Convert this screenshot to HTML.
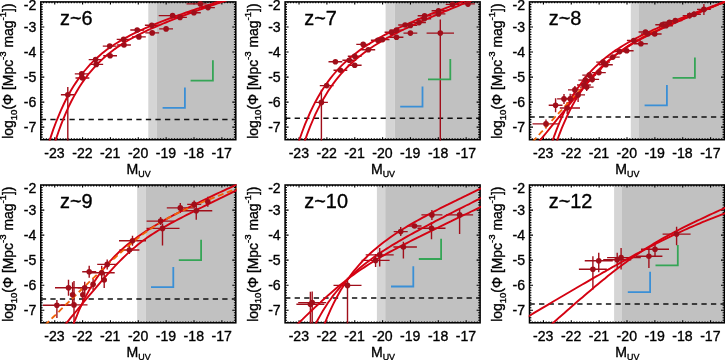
<!DOCTYPE html>
<html><head><meta charset="utf-8"><title>UV luminosity functions</title>
<style>
html,body{margin:0;padding:0;background:#fff;}
body{width:725px;height:360px;overflow:hidden;}
svg{display:block;}
svg text{font-family:"Liberation Sans", Arial, Helvetica, sans-serif;font-size:14.1px;fill:#000;stroke:#000;stroke-width:0.35px;}
</style></head><body>
<svg width="725" height="360" viewBox="0 0 725 360">
<rect width="725" height="360" fill="#fff"/>
<g>
<clipPath id="c00"><rect x="40" y="1.1" width="196.6" height="139.4"/></clipPath>
<rect x="148.3" y="1.9" width="8.6" height="137.8" fill="#d5d5d5"/>
<rect x="156.9" y="1.9" width="78.9" height="137.8" fill="#c1c1c1"/>
<path d="M43.59 139.7v-1.4M43.59 1.9v1.4M46.37 139.7v-1.4M46.37 1.9v1.4M49.16 139.7v-1.4M49.16 1.9v1.4M51.94 139.7v-1.4M51.94 1.9v1.4M54.73 139.7v-2.5M54.73 1.9v2.5M57.52 139.7v-1.4M57.52 1.9v1.4M60.3 139.7v-1.4M60.3 1.9v1.4M63.09 139.7v-1.4M63.09 1.9v1.4M65.87 139.7v-1.4M65.87 1.9v1.4M68.66 139.7v-1.4M68.66 1.9v1.4M71.44 139.7v-1.4M71.44 1.9v1.4M74.23 139.7v-1.4M74.23 1.9v1.4M77.02 139.7v-1.4M77.02 1.9v1.4M79.8 139.7v-1.4M79.8 1.9v1.4M82.59 139.7v-2.5M82.59 1.9v2.5M85.37 139.7v-1.4M85.37 1.9v1.4M88.16 139.7v-1.4M88.16 1.9v1.4M90.94 139.7v-1.4M90.94 1.9v1.4M93.73 139.7v-1.4M93.73 1.9v1.4M96.52 139.7v-1.4M96.52 1.9v1.4M99.3 139.7v-1.4M99.3 1.9v1.4M102.09 139.7v-1.4M102.09 1.9v1.4M104.87 139.7v-1.4M104.87 1.9v1.4M107.66 139.7v-1.4M107.66 1.9v1.4M110.44 139.7v-2.5M110.44 1.9v2.5M113.23 139.7v-1.4M113.23 1.9v1.4M116.02 139.7v-1.4M116.02 1.9v1.4M118.8 139.7v-1.4M118.8 1.9v1.4M121.59 139.7v-1.4M121.59 1.9v1.4M124.37 139.7v-1.4M124.37 1.9v1.4M127.16 139.7v-1.4M127.16 1.9v1.4M129.94 139.7v-1.4M129.94 1.9v1.4M132.73 139.7v-1.4M132.73 1.9v1.4M135.52 139.7v-1.4M135.52 1.9v1.4M138.3 139.7v-2.5M138.3 1.9v2.5M141.09 139.7v-1.4M141.09 1.9v1.4M143.87 139.7v-1.4M143.87 1.9v1.4M146.66 139.7v-1.4M146.66 1.9v1.4M149.44 139.7v-1.4M149.44 1.9v1.4M152.23 139.7v-1.4M152.23 1.9v1.4M155.02 139.7v-1.4M155.02 1.9v1.4M157.8 139.7v-1.4M157.8 1.9v1.4M160.59 139.7v-1.4M160.59 1.9v1.4M163.37 139.7v-1.4M163.37 1.9v1.4M166.16 139.7v-2.5M166.16 1.9v2.5M168.94 139.7v-1.4M168.94 1.9v1.4M171.73 139.7v-1.4M171.73 1.9v1.4M174.52 139.7v-1.4M174.52 1.9v1.4M177.3 139.7v-1.4M177.3 1.9v1.4M180.09 139.7v-1.4M180.09 1.9v1.4M182.87 139.7v-1.4M182.87 1.9v1.4M185.66 139.7v-1.4M185.66 1.9v1.4M188.44 139.7v-1.4M188.44 1.9v1.4M191.23 139.7v-1.4M191.23 1.9v1.4M194.01 139.7v-2.5M194.01 1.9v2.5M196.8 139.7v-1.4M196.8 1.9v1.4M199.59 139.7v-1.4M199.59 1.9v1.4M202.37 139.7v-1.4M202.37 1.9v1.4M205.16 139.7v-1.4M205.16 1.9v1.4M207.94 139.7v-1.4M207.94 1.9v1.4M210.73 139.7v-1.4M210.73 1.9v1.4M213.51 139.7v-1.4M213.51 1.9v1.4M216.3 139.7v-1.4M216.3 1.9v1.4M219.09 139.7v-1.4M219.09 1.9v1.4M221.87 139.7v-2.5M221.87 1.9v2.5M224.66 139.7v-1.4M224.66 1.9v1.4M227.44 139.7v-1.4M227.44 1.9v1.4M230.23 139.7v-1.4M230.23 1.9v1.4M233.01 139.7v-1.4M233.01 1.9v1.4M40.8 137.17h1.9M235.8 137.17h-1.9M40.8 134.66h1.9M235.8 134.66h-1.9M40.8 132.16h1.9M235.8 132.16h-1.9M40.8 129.66h1.9M235.8 129.66h-1.9M40.8 127.15h3.5M235.8 127.15h-3.5M40.8 124.65h1.9M235.8 124.65h-1.9M40.8 122.14h1.9M235.8 122.14h-1.9M40.8 119.64h1.9M235.8 119.64h-1.9M40.8 117.13h1.9M235.8 117.13h-1.9M40.8 114.63h1.9M235.8 114.63h-1.9M40.8 112.12h1.9M235.8 112.12h-1.9M40.8 109.62h1.9M235.8 109.62h-1.9M40.8 107.11h1.9M235.8 107.11h-1.9M40.8 104.61h1.9M235.8 104.61h-1.9M40.8 102.1h3.5M235.8 102.1h-3.5M40.8 99.6h1.9M235.8 99.6h-1.9M40.8 97.09h1.9M235.8 97.09h-1.9M40.8 94.59h1.9M235.8 94.59h-1.9M40.8 92.08h1.9M235.8 92.08h-1.9M40.8 89.58h1.9M235.8 89.58h-1.9M40.8 87.07h1.9M235.8 87.07h-1.9M40.8 84.56h1.9M235.8 84.56h-1.9M40.8 82.06h1.9M235.8 82.06h-1.9M40.8 79.55h1.9M235.8 79.55h-1.9M40.8 77.05h3.5M235.8 77.05h-3.5M40.8 74.55h1.9M235.8 74.55h-1.9M40.8 72.04h1.9M235.8 72.04h-1.9M40.8 69.54h1.9M235.8 69.54h-1.9M40.8 67.03h1.9M235.8 67.03h-1.9M40.8 64.53h1.9M235.8 64.53h-1.9M40.8 62.02h1.9M235.8 62.02h-1.9M40.8 59.51h1.9M235.8 59.51h-1.9M40.8 57.01h1.9M235.8 57.01h-1.9M40.8 54.5h1.9M235.8 54.5h-1.9M40.8 52h3.5M235.8 52h-3.5M40.8 49.49h1.9M235.8 49.49h-1.9M40.8 46.99h1.9M235.8 46.99h-1.9M40.8 44.49h1.9M235.8 44.49h-1.9M40.8 41.98h1.9M235.8 41.98h-1.9M40.8 39.48h1.9M235.8 39.48h-1.9M40.8 36.97h1.9M235.8 36.97h-1.9M40.8 34.46h1.9M235.8 34.46h-1.9M40.8 31.96h1.9M235.8 31.96h-1.9M40.8 29.46h1.9M235.8 29.46h-1.9M40.8 26.95h3.5M235.8 26.95h-3.5M40.8 24.44h1.9M235.8 24.44h-1.9M40.8 21.94h1.9M235.8 21.94h-1.9M40.8 19.44h1.9M235.8 19.44h-1.9M40.8 16.93h1.9M235.8 16.93h-1.9M40.8 14.43h1.9M235.8 14.43h-1.9M40.8 11.92h1.9M235.8 11.92h-1.9M40.8 9.41h1.9M235.8 9.41h-1.9M40.8 6.91h1.9M235.8 6.91h-1.9M40.8 4.41h1.9M235.8 4.41h-1.9" stroke="#000" stroke-width="1.15" fill="none"/>
<rect x="40.8" y="1.9" width="195" height="137.8" fill="none" stroke="#000" stroke-width="1.55"/>
<g clip-path="url(#c00)">
<line x1="40.8" y1="119.6" x2="235.8" y2="119.6" stroke="#111" stroke-width="1.5" stroke-dasharray="5.3 4.25" stroke-dashoffset="0"/>
<line x1="60.9" y1="94.7" x2="74.7" y2="94.7" stroke="#a00e1a" stroke-width="1.4"/>
<line x1="67.8" y1="87" x2="67.8" y2="144.7" stroke="#a00e1a" stroke-width="1.4"/>
<line x1="74.8" y1="73.9" x2="88.6" y2="73.9" stroke="#a00e1a" stroke-width="1.4"/>
<line x1="75.5" y1="78" x2="89.3" y2="78" stroke="#a00e1a" stroke-width="1.4"/>
<line x1="88.7" y1="59.6" x2="102.5" y2="59.6" stroke="#a00e1a" stroke-width="1.4"/>
<line x1="89.35" y1="64.4" x2="103.15" y2="64.4" stroke="#a00e1a" stroke-width="1.4"/>
<line x1="102.8" y1="46.1" x2="116.6" y2="46.1" stroke="#a00e1a" stroke-width="1.4"/>
<line x1="103.2" y1="55.8" x2="117" y2="55.8" stroke="#a00e1a" stroke-width="1.4"/>
<line x1="116.7" y1="39.4" x2="130.5" y2="39.4" stroke="#a00e1a" stroke-width="1.4"/>
<line x1="117.1" y1="45" x2="130.9" y2="45" stroke="#a00e1a" stroke-width="1.4"/>
<line x1="130.3" y1="30" x2="144.1" y2="30" stroke="#a00e1a" stroke-width="1.4"/>
<line x1="132" y1="36.9" x2="145.8" y2="36.9" stroke="#a00e1a" stroke-width="1.4"/>
<line x1="144.9" y1="25.3" x2="158.7" y2="25.3" stroke="#a00e1a" stroke-width="1.4"/>
<line x1="145.3" y1="32.9" x2="159.1" y2="32.9" stroke="#a00e1a" stroke-width="1.4"/>
<line x1="159.2" y1="28.9" x2="173" y2="28.9" stroke="#a00e1a" stroke-width="1.4"/>
<line x1="158.7" y1="15.6" x2="178.9" y2="15.6" stroke="#a00e1a" stroke-width="1.4"/>
<line x1="173.1" y1="17.4" x2="186.9" y2="17.4" stroke="#a00e1a" stroke-width="1.4"/>
<line x1="187" y1="12.8" x2="200.8" y2="12.8" stroke="#a00e1a" stroke-width="1.4"/>
<line x1="186.5" y1="3.9" x2="206.7" y2="3.9" stroke="#a00e1a" stroke-width="1.4"/>
<line x1="201.1" y1="7.6" x2="214.9" y2="7.6" stroke="#a00e1a" stroke-width="1.4"/>
<path d="M38.0 184.2L40.6 173.2L43.1 163.1L45.7 153.7L48.2 145.0L50.8 136.9L53.3 129.4L55.9 122.5L58.5 116.1L61.0 110.1L63.6 104.5L66.1 99.3L68.7 94.5L71.2 90.0L73.8 85.8L76.4 81.9L78.9 78.2L81.5 74.8L84.0 71.5L86.6 68.5L89.1 65.6L91.7 62.9L94.3 60.4L96.8 58.0L99.4 55.7L101.9 53.6L104.5 51.5L107.0 49.6L109.6 47.7L112.2 46.0L114.7 44.3L117.3 42.7L119.8 41.1L122.4 39.6L124.9 38.2L127.5 36.8L130.1 35.4L132.6 34.1L135.2 32.9L137.7 31.7L140.3 30.5L142.8 29.3L145.4 28.2L147.9 27.1L150.5 26.0L153.1 24.9L155.6 23.9L158.2 22.9L160.7 21.9L163.3 20.9L165.8 19.9L168.4 18.9L171.0 18.0L173.5 17.0L176.1 16.1L178.6 15.2L181.2 14.3L183.7 13.4L186.3 12.5L188.9 11.6L191.4 10.7L194.0 9.8L196.5 8.9L199.1 8.1L201.6 7.2L204.2 6.3L206.8 5.5L209.3 4.6L211.9 3.8L214.4 2.9L217.0 2.1L219.5 1.2L222.1 0.4L224.7 -0.4L227.2 -1.3L229.8 -2.1L232.3 -2.9L234.9 -3.8L237.4 -4.6L240.0 -5.4" fill="none" stroke="#d40212" stroke-width="1.9"/>
<path d="M38.0 211.9L40.6 199.0L43.1 187.0L45.7 176.0L48.2 165.7L50.8 156.3L53.3 147.5L55.9 139.4L58.5 131.8L61.0 124.9L63.6 118.4L66.1 112.3L68.7 106.7L71.2 101.5L73.8 96.6L76.4 92.0L78.9 87.8L81.5 83.8L84.0 80.1L86.6 76.6L89.1 73.3L91.7 70.3L94.3 67.4L96.8 64.6L99.4 62.0L101.9 59.6L104.5 57.3L107.0 55.1L109.6 53.0L112.2 51.0L114.7 49.1L117.3 47.3L119.8 45.6L122.4 43.9L124.9 42.3L127.5 40.8L130.1 39.3L132.6 37.9L135.2 36.5L137.7 35.2L140.3 33.9L142.8 32.6L145.4 31.4L147.9 30.2L150.5 29.0L153.1 27.9L155.6 26.8L158.2 25.7L160.7 24.6L163.3 23.5L165.8 22.5L168.4 21.4L171.0 20.4L173.5 19.4L176.1 18.4L178.6 17.5L181.2 16.5L183.7 15.5L186.3 14.6L188.9 13.6L191.4 12.7L194.0 11.8L196.5 10.8L199.1 9.9L201.6 9.0L204.2 8.1L206.8 7.2L209.3 6.3L211.9 5.4L214.4 4.5L217.0 3.6L219.5 2.8L222.1 1.9L224.7 1.0L227.2 0.1L229.8 -0.8L232.3 -1.6L234.9 -2.5L237.4 -3.4L240.0 -4.3" fill="none" stroke="#d40212" stroke-width="1.9"/>
<circle cx="67.8" cy="94.7" r="2.8" fill="#a00e1a"/>
<circle cx="81.7" cy="73.9" r="2.8" fill="#a00e1a"/>
<circle cx="82.4" cy="78" r="2.8" fill="#a00e1a"/>
<circle cx="95.6" cy="59.6" r="2.8" fill="#a00e1a"/>
<circle cx="96.25" cy="64.4" r="2.8" fill="#a00e1a"/>
<circle cx="109.7" cy="46.1" r="2.8" fill="#a00e1a"/>
<circle cx="110.1" cy="55.8" r="2.8" fill="#a00e1a"/>
<circle cx="123.6" cy="39.4" r="2.8" fill="#a00e1a"/>
<circle cx="124" cy="45" r="2.8" fill="#a00e1a"/>
<circle cx="137.2" cy="30" r="2.8" fill="#a00e1a"/>
<circle cx="138.9" cy="36.9" r="2.8" fill="#a00e1a"/>
<circle cx="151.8" cy="25.3" r="2.8" fill="#a00e1a"/>
<circle cx="152.2" cy="32.9" r="2.8" fill="#a00e1a"/>
<circle cx="166.1" cy="28.9" r="2.8" fill="#a00e1a"/>
<circle cx="172.6" cy="15.6" r="2.8" fill="#a00e1a"/>
<circle cx="180" cy="17.4" r="2.8" fill="#a00e1a"/>
<circle cx="193.9" cy="12.8" r="2.8" fill="#a00e1a"/>
<circle cx="200.4" cy="3.9" r="2.8" fill="#a00e1a"/>
<circle cx="208" cy="7.6" r="2.8" fill="#a00e1a"/>
<path d="M162.6 107.8H184.9V87.5" fill="none" stroke="#3a8fd6" stroke-width="1.8" stroke-linejoin="miter"/>
<path d="M190.6 80.6H212.9V60.3" fill="none" stroke="#35a556" stroke-width="1.8" stroke-linejoin="miter"/>
</g>
<text x="54.53" y="157.8" text-anchor="middle">-23</text>
<text x="82.39" y="157.8" text-anchor="middle">-22</text>
<text x="110.24" y="157.8" text-anchor="middle">-21</text>
<text x="138.1" y="157.8" text-anchor="middle">-20</text>
<text x="165.96" y="157.8" text-anchor="middle">-19</text>
<text x="193.81" y="157.8" text-anchor="middle">-18</text>
<text x="221.67" y="157.8" text-anchor="middle">-17</text>
<text x="36.4" y="131.75" text-anchor="end">-7</text>
<text x="36.4" y="106.7" text-anchor="end">-6</text>
<text x="36.4" y="81.65" text-anchor="end">-5</text>
<text x="36.4" y="56.6" text-anchor="end">-4</text>
<text x="36.4" y="31.55" text-anchor="end">-3</text>
<text x="36.4" y="9.5" text-anchor="end">-2</text>
<text x="126.6" y="173.5">M<tspan style="font-size:8.9px" dy="3.4">UV</tspan></text>
<text transform="translate(13.4 71.1) rotate(-90)" text-anchor="middle" style="font-size:13.9px">log<tspan style="font-size:9.6px" dy="3.4">10</tspan><tspan dy="-3.4">(Φ [Mpc</tspan><tspan style="font-size:9.6px" dy="-7">-3</tspan><tspan dy="7"> mag</tspan><tspan style="font-size:9.6px" dy="-7">-1</tspan><tspan dy="7">])</tspan></text>
<text x="60" y="24.6" style="font-size:19.9px">z~6</text>
</g>
<g>
<clipPath id="c01"><rect x="284.3" y="1.1" width="196.6" height="139.4"/></clipPath>
<rect x="385.6" y="1.9" width="9.2" height="137.8" fill="#d5d5d5"/>
<rect x="394.8" y="1.9" width="85.3" height="137.8" fill="#c1c1c1"/>
<path d="M287.89 139.7v-1.4M287.89 1.9v1.4M290.67 139.7v-1.4M290.67 1.9v1.4M293.46 139.7v-1.4M293.46 1.9v1.4M296.24 139.7v-1.4M296.24 1.9v1.4M299.03 139.7v-2.5M299.03 1.9v2.5M301.82 139.7v-1.4M301.82 1.9v1.4M304.6 139.7v-1.4M304.6 1.9v1.4M307.39 139.7v-1.4M307.39 1.9v1.4M310.17 139.7v-1.4M310.17 1.9v1.4M312.96 139.7v-1.4M312.96 1.9v1.4M315.74 139.7v-1.4M315.74 1.9v1.4M318.53 139.7v-1.4M318.53 1.9v1.4M321.32 139.7v-1.4M321.32 1.9v1.4M324.1 139.7v-1.4M324.1 1.9v1.4M326.89 139.7v-2.5M326.89 1.9v2.5M329.67 139.7v-1.4M329.67 1.9v1.4M332.46 139.7v-1.4M332.46 1.9v1.4M335.24 139.7v-1.4M335.24 1.9v1.4M338.03 139.7v-1.4M338.03 1.9v1.4M340.82 139.7v-1.4M340.82 1.9v1.4M343.6 139.7v-1.4M343.6 1.9v1.4M346.39 139.7v-1.4M346.39 1.9v1.4M349.17 139.7v-1.4M349.17 1.9v1.4M351.96 139.7v-1.4M351.96 1.9v1.4M354.74 139.7v-2.5M354.74 1.9v2.5M357.53 139.7v-1.4M357.53 1.9v1.4M360.32 139.7v-1.4M360.32 1.9v1.4M363.1 139.7v-1.4M363.1 1.9v1.4M365.89 139.7v-1.4M365.89 1.9v1.4M368.67 139.7v-1.4M368.67 1.9v1.4M371.46 139.7v-1.4M371.46 1.9v1.4M374.24 139.7v-1.4M374.24 1.9v1.4M377.03 139.7v-1.4M377.03 1.9v1.4M379.82 139.7v-1.4M379.82 1.9v1.4M382.6 139.7v-2.5M382.6 1.9v2.5M385.39 139.7v-1.4M385.39 1.9v1.4M388.17 139.7v-1.4M388.17 1.9v1.4M390.96 139.7v-1.4M390.96 1.9v1.4M393.74 139.7v-1.4M393.74 1.9v1.4M396.53 139.7v-1.4M396.53 1.9v1.4M399.32 139.7v-1.4M399.32 1.9v1.4M402.1 139.7v-1.4M402.1 1.9v1.4M404.89 139.7v-1.4M404.89 1.9v1.4M407.67 139.7v-1.4M407.67 1.9v1.4M410.46 139.7v-2.5M410.46 1.9v2.5M413.24 139.7v-1.4M413.24 1.9v1.4M416.03 139.7v-1.4M416.03 1.9v1.4M418.82 139.7v-1.4M418.82 1.9v1.4M421.6 139.7v-1.4M421.6 1.9v1.4M424.39 139.7v-1.4M424.39 1.9v1.4M427.17 139.7v-1.4M427.17 1.9v1.4M429.96 139.7v-1.4M429.96 1.9v1.4M432.74 139.7v-1.4M432.74 1.9v1.4M435.53 139.7v-1.4M435.53 1.9v1.4M438.32 139.7v-2.5M438.32 1.9v2.5M441.1 139.7v-1.4M441.1 1.9v1.4M443.89 139.7v-1.4M443.89 1.9v1.4M446.67 139.7v-1.4M446.67 1.9v1.4M449.46 139.7v-1.4M449.46 1.9v1.4M452.24 139.7v-1.4M452.24 1.9v1.4M455.03 139.7v-1.4M455.03 1.9v1.4M457.81 139.7v-1.4M457.81 1.9v1.4M460.6 139.7v-1.4M460.6 1.9v1.4M463.39 139.7v-1.4M463.39 1.9v1.4M466.17 139.7v-2.5M466.17 1.9v2.5M468.96 139.7v-1.4M468.96 1.9v1.4M471.74 139.7v-1.4M471.74 1.9v1.4M474.53 139.7v-1.4M474.53 1.9v1.4M477.31 139.7v-1.4M477.31 1.9v1.4M285.1 137.17h1.9M480.1 137.17h-1.9M285.1 134.66h1.9M480.1 134.66h-1.9M285.1 132.16h1.9M480.1 132.16h-1.9M285.1 129.66h1.9M480.1 129.66h-1.9M285.1 127.15h3.5M480.1 127.15h-3.5M285.1 124.65h1.9M480.1 124.65h-1.9M285.1 122.14h1.9M480.1 122.14h-1.9M285.1 119.64h1.9M480.1 119.64h-1.9M285.1 117.13h1.9M480.1 117.13h-1.9M285.1 114.63h1.9M480.1 114.63h-1.9M285.1 112.12h1.9M480.1 112.12h-1.9M285.1 109.62h1.9M480.1 109.62h-1.9M285.1 107.11h1.9M480.1 107.11h-1.9M285.1 104.61h1.9M480.1 104.61h-1.9M285.1 102.1h3.5M480.1 102.1h-3.5M285.1 99.6h1.9M480.1 99.6h-1.9M285.1 97.09h1.9M480.1 97.09h-1.9M285.1 94.59h1.9M480.1 94.59h-1.9M285.1 92.08h1.9M480.1 92.08h-1.9M285.1 89.58h1.9M480.1 89.58h-1.9M285.1 87.07h1.9M480.1 87.07h-1.9M285.1 84.56h1.9M480.1 84.56h-1.9M285.1 82.06h1.9M480.1 82.06h-1.9M285.1 79.55h1.9M480.1 79.55h-1.9M285.1 77.05h3.5M480.1 77.05h-3.5M285.1 74.55h1.9M480.1 74.55h-1.9M285.1 72.04h1.9M480.1 72.04h-1.9M285.1 69.54h1.9M480.1 69.54h-1.9M285.1 67.03h1.9M480.1 67.03h-1.9M285.1 64.53h1.9M480.1 64.53h-1.9M285.1 62.02h1.9M480.1 62.02h-1.9M285.1 59.51h1.9M480.1 59.51h-1.9M285.1 57.01h1.9M480.1 57.01h-1.9M285.1 54.5h1.9M480.1 54.5h-1.9M285.1 52h3.5M480.1 52h-3.5M285.1 49.49h1.9M480.1 49.49h-1.9M285.1 46.99h1.9M480.1 46.99h-1.9M285.1 44.49h1.9M480.1 44.49h-1.9M285.1 41.98h1.9M480.1 41.98h-1.9M285.1 39.48h1.9M480.1 39.48h-1.9M285.1 36.97h1.9M480.1 36.97h-1.9M285.1 34.46h1.9M480.1 34.46h-1.9M285.1 31.96h1.9M480.1 31.96h-1.9M285.1 29.46h1.9M480.1 29.46h-1.9M285.1 26.95h3.5M480.1 26.95h-3.5M285.1 24.44h1.9M480.1 24.44h-1.9M285.1 21.94h1.9M480.1 21.94h-1.9M285.1 19.44h1.9M480.1 19.44h-1.9M285.1 16.93h1.9M480.1 16.93h-1.9M285.1 14.43h1.9M480.1 14.43h-1.9M285.1 11.92h1.9M480.1 11.92h-1.9M285.1 9.41h1.9M480.1 9.41h-1.9M285.1 6.91h1.9M480.1 6.91h-1.9M285.1 4.41h1.9M480.1 4.41h-1.9" stroke="#000" stroke-width="1.15" fill="none"/>
<rect x="285.1" y="1.9" width="195" height="137.8" fill="none" stroke="#000" stroke-width="1.55"/>
<g clip-path="url(#c01)">
<line x1="285.1" y1="118.2" x2="480.1" y2="118.2" stroke="#111" stroke-width="1.5" stroke-dasharray="5.3 4.25" stroke-dashoffset="0"/>
<line x1="314.9" y1="102.4" x2="327.9" y2="102.4" stroke="#a00e1a" stroke-width="1.4"/>
<line x1="321.4" y1="89.7" x2="321.4" y2="152.4" stroke="#a00e1a" stroke-width="1.4"/>
<line x1="319.8" y1="85.6" x2="333.6" y2="85.6" stroke="#a00e1a" stroke-width="1.4"/>
<line x1="328.5" y1="61.8" x2="342.3" y2="61.8" stroke="#a00e1a" stroke-width="1.4"/>
<line x1="333.5" y1="70.2" x2="347.3" y2="70.2" stroke="#a00e1a" stroke-width="1.4"/>
<line x1="342.4" y1="60.2" x2="356.2" y2="60.2" stroke="#a00e1a" stroke-width="1.4"/>
<line x1="347.8" y1="56.3" x2="361.6" y2="56.3" stroke="#a00e1a" stroke-width="1.4"/>
<line x1="347.8" y1="65.3" x2="361.6" y2="65.3" stroke="#a00e1a" stroke-width="1.4"/>
<line x1="356.3" y1="44.4" x2="370.1" y2="44.4" stroke="#a00e1a" stroke-width="1.4"/>
<line x1="361.4" y1="49.7" x2="375.2" y2="49.7" stroke="#a00e1a" stroke-width="1.4"/>
<line x1="370.9" y1="40.3" x2="384.7" y2="40.3" stroke="#a00e1a" stroke-width="1.4"/>
<line x1="375.7" y1="39.6" x2="389.5" y2="39.6" stroke="#a00e1a" stroke-width="1.4"/>
<line x1="384.6" y1="32.3" x2="398.4" y2="32.3" stroke="#a00e1a" stroke-width="1.4"/>
<line x1="389.6" y1="30.1" x2="403.4" y2="30.1" stroke="#a00e1a" stroke-width="1.4"/>
<line x1="389.6" y1="37.3" x2="403.4" y2="37.3" stroke="#a00e1a" stroke-width="1.4"/>
<line x1="398.2" y1="25" x2="412" y2="25" stroke="#a00e1a" stroke-width="1.4"/>
<line x1="403.5" y1="25.4" x2="417.3" y2="25.4" stroke="#a00e1a" stroke-width="1.4"/>
<line x1="403.5" y1="33.1" x2="417.3" y2="33.1" stroke="#a00e1a" stroke-width="1.4"/>
<line x1="412.1" y1="22.6" x2="425.9" y2="22.6" stroke="#a00e1a" stroke-width="1.4"/>
<line x1="417.7" y1="15.8" x2="431.5" y2="15.8" stroke="#a00e1a" stroke-width="1.4"/>
<line x1="417.4" y1="18.8" x2="431.2" y2="18.8" stroke="#a00e1a" stroke-width="1.4"/>
<line x1="431.6" y1="10.8" x2="445.4" y2="10.8" stroke="#a00e1a" stroke-width="1.4"/>
<line x1="431.6" y1="13.9" x2="445.4" y2="13.9" stroke="#a00e1a" stroke-width="1.4"/>
<line x1="426.6" y1="33.1" x2="454" y2="33.1" stroke="#a00e1a" stroke-width="1.4"/>
<line x1="440.3" y1="19.4" x2="440.3" y2="153.1" stroke="#a00e1a" stroke-width="1.4"/>
<line x1="445.7" y1="4.4" x2="459.5" y2="4.4" stroke="#a00e1a" stroke-width="1.4"/>
<line x1="461.1" y1="3.9" x2="474.9" y2="3.9" stroke="#a00e1a" stroke-width="1.4"/>
<line x1="468" y1="0.9" x2="468" y2="6.9" stroke="#a00e1a" stroke-width="1.4"/>
<path d="M282.0 206.3L284.6 194.2L287.1 183.0L289.7 172.6L292.2 163.0L294.8 154.1L297.3 145.8L299.9 138.2L302.5 131.0L305.0 124.4L307.6 118.3L310.1 112.5L312.7 107.2L315.2 102.2L317.8 97.5L320.4 93.1L322.9 89.0L325.5 85.2L328.0 81.6L330.6 78.2L333.1 75.0L335.7 72.0L338.3 69.1L340.8 66.4L343.4 63.9L345.9 61.5L348.5 59.1L351.0 57.0L353.6 54.9L356.2 52.9L358.7 50.9L361.3 49.1L363.8 47.3L366.4 45.6L368.9 44.0L371.5 42.4L374.1 40.9L376.6 39.4L379.2 37.9L381.7 36.5L384.3 35.1L386.8 33.8L389.4 32.5L391.9 31.2L394.5 30.0L397.1 28.7L399.6 27.5L402.2 26.3L404.7 25.2L407.3 24.0L409.8 22.9L412.4 21.8L415.0 20.7L417.5 19.6L420.1 18.5L422.6 17.4L425.2 16.3L427.7 15.3L430.3 14.2L432.9 13.2L435.4 12.2L438.0 11.1L440.5 10.1L443.1 9.1L445.6 8.1L448.2 7.1L450.8 6.1L453.3 5.1L455.9 4.1L458.4 3.1L461.0 2.1L463.5 1.1L466.1 0.1L468.7 -0.9L471.2 -1.9L473.8 -2.8L476.3 -3.8L478.9 -4.8L481.4 -5.8L484.0 -6.7" fill="none" stroke="#d40212" stroke-width="1.9"/>
<path d="M282.0 235.1L284.6 221.0L287.1 208.0L289.7 196.0L292.2 184.9L294.8 174.6L297.3 165.0L299.9 156.2L302.5 147.9L305.0 140.3L307.6 133.2L310.1 126.6L312.7 120.5L315.2 114.7L317.8 109.4L320.4 104.4L322.9 99.7L325.5 95.4L328.0 91.3L330.6 87.4L333.1 83.8L335.7 80.4L338.3 77.2L340.8 74.2L343.4 71.3L345.9 68.6L348.5 66.0L351.0 63.6L353.6 61.2L356.2 59.0L358.7 56.9L361.3 54.9L363.8 52.9L366.4 51.1L368.9 49.3L371.5 47.5L374.1 45.8L376.6 44.2L379.2 42.7L381.7 41.1L384.3 39.7L386.8 38.2L389.4 36.8L391.9 35.4L394.5 34.1L397.1 32.8L399.6 31.5L402.2 30.2L404.7 29.0L407.3 27.8L409.8 26.6L412.4 25.4L415.0 24.2L417.5 23.1L420.1 21.9L422.6 20.8L425.2 19.7L427.7 18.6L430.3 17.5L432.9 16.4L435.4 15.3L438.0 14.2L440.5 13.1L443.1 12.1L445.6 11.0L448.2 10.0L450.8 8.9L453.3 7.9L455.9 6.8L458.4 5.8L461.0 4.7L463.5 3.7L466.1 2.7L468.7 1.7L471.2 0.6L473.8 -0.4L476.3 -1.4L478.9 -2.4L481.4 -3.4L484.0 -4.4" fill="none" stroke="#d40212" stroke-width="1.9"/>
<circle cx="321.4" cy="102.4" r="2.8" fill="#a00e1a"/>
<circle cx="326.7" cy="85.6" r="2.8" fill="#a00e1a"/>
<circle cx="335.4" cy="61.8" r="2.8" fill="#a00e1a"/>
<circle cx="340.4" cy="70.2" r="2.8" fill="#a00e1a"/>
<circle cx="349.3" cy="60.2" r="2.8" fill="#a00e1a"/>
<circle cx="354.7" cy="56.3" r="2.8" fill="#a00e1a"/>
<circle cx="354.7" cy="65.3" r="2.8" fill="#a00e1a"/>
<circle cx="363.2" cy="44.4" r="2.8" fill="#a00e1a"/>
<circle cx="368.3" cy="49.7" r="2.8" fill="#a00e1a"/>
<circle cx="377.8" cy="40.3" r="2.8" fill="#a00e1a"/>
<circle cx="382.6" cy="39.6" r="2.8" fill="#a00e1a"/>
<circle cx="391.5" cy="32.3" r="2.8" fill="#a00e1a"/>
<circle cx="396.5" cy="30.1" r="2.8" fill="#a00e1a"/>
<circle cx="396.5" cy="37.3" r="2.8" fill="#a00e1a"/>
<circle cx="405.1" cy="25" r="2.8" fill="#a00e1a"/>
<circle cx="410.4" cy="25.4" r="2.8" fill="#a00e1a"/>
<circle cx="410.4" cy="33.1" r="2.8" fill="#a00e1a"/>
<circle cx="419" cy="22.6" r="2.8" fill="#a00e1a"/>
<circle cx="424.6" cy="15.8" r="2.8" fill="#a00e1a"/>
<circle cx="424.3" cy="18.8" r="2.8" fill="#a00e1a"/>
<circle cx="438.5" cy="10.8" r="2.8" fill="#a00e1a"/>
<circle cx="438.5" cy="13.9" r="2.8" fill="#a00e1a"/>
<circle cx="440.3" cy="33.1" r="2.8" fill="#a00e1a"/>
<circle cx="452.6" cy="4.4" r="2.8" fill="#a00e1a"/>
<circle cx="468" cy="3.9" r="2.8" fill="#a00e1a"/>
<path d="M400.2 106.7H422.5V86.4" fill="none" stroke="#3a8fd6" stroke-width="1.8" stroke-linejoin="miter"/>
<path d="M428 79.4H450.3V59.1" fill="none" stroke="#35a556" stroke-width="1.8" stroke-linejoin="miter"/>
</g>
<text x="298.83" y="157.8" text-anchor="middle">-23</text>
<text x="326.69" y="157.8" text-anchor="middle">-22</text>
<text x="354.54" y="157.8" text-anchor="middle">-21</text>
<text x="382.4" y="157.8" text-anchor="middle">-20</text>
<text x="410.26" y="157.8" text-anchor="middle">-19</text>
<text x="438.12" y="157.8" text-anchor="middle">-18</text>
<text x="465.97" y="157.8" text-anchor="middle">-17</text>
<text x="280.7" y="131.75" text-anchor="end">-7</text>
<text x="280.7" y="106.7" text-anchor="end">-6</text>
<text x="280.7" y="81.65" text-anchor="end">-5</text>
<text x="280.7" y="56.6" text-anchor="end">-4</text>
<text x="280.7" y="31.55" text-anchor="end">-3</text>
<text x="280.7" y="9.5" text-anchor="end">-2</text>
<text x="370.9" y="173.5">M<tspan style="font-size:8.9px" dy="3.4">UV</tspan></text>
<text transform="translate(257.7 71.1) rotate(-90)" text-anchor="middle" style="font-size:13.9px">log<tspan style="font-size:9.6px" dy="3.4">10</tspan><tspan dy="-3.4">(Φ [Mpc</tspan><tspan style="font-size:9.6px" dy="-7">-3</tspan><tspan dy="7"> mag</tspan><tspan style="font-size:9.6px" dy="-7">-1</tspan><tspan dy="7">])</tspan></text>
<text x="304.3" y="24.6" style="font-size:19.9px">z~7</text>
</g>
<g>
<clipPath id="c02"><rect x="528.7" y="1.1" width="196.6" height="139.4"/></clipPath>
<rect x="630.8" y="1.9" width="8.2" height="137.8" fill="#d5d5d5"/>
<rect x="639" y="1.9" width="85.5" height="137.8" fill="#c1c1c1"/>
<path d="M532.29 139.7v-1.4M532.29 1.9v1.4M535.07 139.7v-1.4M535.07 1.9v1.4M537.86 139.7v-1.4M537.86 1.9v1.4M540.64 139.7v-1.4M540.64 1.9v1.4M543.43 139.7v-2.5M543.43 1.9v2.5M546.22 139.7v-1.4M546.22 1.9v1.4M549 139.7v-1.4M549 1.9v1.4M551.79 139.7v-1.4M551.79 1.9v1.4M554.57 139.7v-1.4M554.57 1.9v1.4M557.36 139.7v-1.4M557.36 1.9v1.4M560.14 139.7v-1.4M560.14 1.9v1.4M562.93 139.7v-1.4M562.93 1.9v1.4M565.72 139.7v-1.4M565.72 1.9v1.4M568.5 139.7v-1.4M568.5 1.9v1.4M571.29 139.7v-2.5M571.29 1.9v2.5M574.07 139.7v-1.4M574.07 1.9v1.4M576.86 139.7v-1.4M576.86 1.9v1.4M579.64 139.7v-1.4M579.64 1.9v1.4M582.43 139.7v-1.4M582.43 1.9v1.4M585.22 139.7v-1.4M585.22 1.9v1.4M588 139.7v-1.4M588 1.9v1.4M590.79 139.7v-1.4M590.79 1.9v1.4M593.57 139.7v-1.4M593.57 1.9v1.4M596.36 139.7v-1.4M596.36 1.9v1.4M599.14 139.7v-2.5M599.14 1.9v2.5M601.93 139.7v-1.4M601.93 1.9v1.4M604.72 139.7v-1.4M604.72 1.9v1.4M607.5 139.7v-1.4M607.5 1.9v1.4M610.29 139.7v-1.4M610.29 1.9v1.4M613.07 139.7v-1.4M613.07 1.9v1.4M615.86 139.7v-1.4M615.86 1.9v1.4M618.64 139.7v-1.4M618.64 1.9v1.4M621.43 139.7v-1.4M621.43 1.9v1.4M624.22 139.7v-1.4M624.22 1.9v1.4M627 139.7v-2.5M627 1.9v2.5M629.79 139.7v-1.4M629.79 1.9v1.4M632.57 139.7v-1.4M632.57 1.9v1.4M635.36 139.7v-1.4M635.36 1.9v1.4M638.14 139.7v-1.4M638.14 1.9v1.4M640.93 139.7v-1.4M640.93 1.9v1.4M643.72 139.7v-1.4M643.72 1.9v1.4M646.5 139.7v-1.4M646.5 1.9v1.4M649.29 139.7v-1.4M649.29 1.9v1.4M652.07 139.7v-1.4M652.07 1.9v1.4M654.86 139.7v-2.5M654.86 1.9v2.5M657.64 139.7v-1.4M657.64 1.9v1.4M660.43 139.7v-1.4M660.43 1.9v1.4M663.22 139.7v-1.4M663.22 1.9v1.4M666 139.7v-1.4M666 1.9v1.4M668.79 139.7v-1.4M668.79 1.9v1.4M671.57 139.7v-1.4M671.57 1.9v1.4M674.36 139.7v-1.4M674.36 1.9v1.4M677.14 139.7v-1.4M677.14 1.9v1.4M679.93 139.7v-1.4M679.93 1.9v1.4M682.71 139.7v-2.5M682.71 1.9v2.5M685.5 139.7v-1.4M685.5 1.9v1.4M688.29 139.7v-1.4M688.29 1.9v1.4M691.07 139.7v-1.4M691.07 1.9v1.4M693.86 139.7v-1.4M693.86 1.9v1.4M696.64 139.7v-1.4M696.64 1.9v1.4M699.43 139.7v-1.4M699.43 1.9v1.4M702.21 139.7v-1.4M702.21 1.9v1.4M705 139.7v-1.4M705 1.9v1.4M707.79 139.7v-1.4M707.79 1.9v1.4M710.57 139.7v-2.5M710.57 1.9v2.5M713.36 139.7v-1.4M713.36 1.9v1.4M716.14 139.7v-1.4M716.14 1.9v1.4M718.93 139.7v-1.4M718.93 1.9v1.4M721.71 139.7v-1.4M721.71 1.9v1.4M529.5 137.17h1.9M724.5 137.17h-1.9M529.5 134.66h1.9M724.5 134.66h-1.9M529.5 132.16h1.9M724.5 132.16h-1.9M529.5 129.66h1.9M724.5 129.66h-1.9M529.5 127.15h3.5M724.5 127.15h-3.5M529.5 124.65h1.9M724.5 124.65h-1.9M529.5 122.14h1.9M724.5 122.14h-1.9M529.5 119.64h1.9M724.5 119.64h-1.9M529.5 117.13h1.9M724.5 117.13h-1.9M529.5 114.63h1.9M724.5 114.63h-1.9M529.5 112.12h1.9M724.5 112.12h-1.9M529.5 109.62h1.9M724.5 109.62h-1.9M529.5 107.11h1.9M724.5 107.11h-1.9M529.5 104.61h1.9M724.5 104.61h-1.9M529.5 102.1h3.5M724.5 102.1h-3.5M529.5 99.6h1.9M724.5 99.6h-1.9M529.5 97.09h1.9M724.5 97.09h-1.9M529.5 94.59h1.9M724.5 94.59h-1.9M529.5 92.08h1.9M724.5 92.08h-1.9M529.5 89.58h1.9M724.5 89.58h-1.9M529.5 87.07h1.9M724.5 87.07h-1.9M529.5 84.56h1.9M724.5 84.56h-1.9M529.5 82.06h1.9M724.5 82.06h-1.9M529.5 79.55h1.9M724.5 79.55h-1.9M529.5 77.05h3.5M724.5 77.05h-3.5M529.5 74.55h1.9M724.5 74.55h-1.9M529.5 72.04h1.9M724.5 72.04h-1.9M529.5 69.54h1.9M724.5 69.54h-1.9M529.5 67.03h1.9M724.5 67.03h-1.9M529.5 64.53h1.9M724.5 64.53h-1.9M529.5 62.02h1.9M724.5 62.02h-1.9M529.5 59.51h1.9M724.5 59.51h-1.9M529.5 57.01h1.9M724.5 57.01h-1.9M529.5 54.5h1.9M724.5 54.5h-1.9M529.5 52h3.5M724.5 52h-3.5M529.5 49.49h1.9M724.5 49.49h-1.9M529.5 46.99h1.9M724.5 46.99h-1.9M529.5 44.49h1.9M724.5 44.49h-1.9M529.5 41.98h1.9M724.5 41.98h-1.9M529.5 39.48h1.9M724.5 39.48h-1.9M529.5 36.97h1.9M724.5 36.97h-1.9M529.5 34.46h1.9M724.5 34.46h-1.9M529.5 31.96h1.9M724.5 31.96h-1.9M529.5 29.46h1.9M724.5 29.46h-1.9M529.5 26.95h3.5M724.5 26.95h-3.5M529.5 24.44h1.9M724.5 24.44h-1.9M529.5 21.94h1.9M724.5 21.94h-1.9M529.5 19.44h1.9M724.5 19.44h-1.9M529.5 16.93h1.9M724.5 16.93h-1.9M529.5 14.43h1.9M724.5 14.43h-1.9M529.5 11.92h1.9M724.5 11.92h-1.9M529.5 9.41h1.9M724.5 9.41h-1.9M529.5 6.91h1.9M724.5 6.91h-1.9M529.5 4.41h1.9M724.5 4.41h-1.9" stroke="#000" stroke-width="1.15" fill="none"/>
<rect x="529.5" y="1.9" width="195" height="137.8" fill="none" stroke="#000" stroke-width="1.55"/>
<g clip-path="url(#c02)">
<line x1="529.5" y1="117" x2="724.5" y2="117" stroke="#111" stroke-width="1.5" stroke-dasharray="5.3 4.25" stroke-dashoffset="0"/>
<line x1="532.5" y1="123.9" x2="559.5" y2="123.9" stroke="#a00e1a" stroke-width="1.4"/>
<line x1="546" y1="119.4" x2="546" y2="128.4" stroke="#a00e1a" stroke-width="1.4"/>
<line x1="548.7" y1="105.3" x2="562.5" y2="105.3" stroke="#a00e1a" stroke-width="1.4"/>
<line x1="555.6" y1="98.3" x2="555.6" y2="112.3" stroke="#a00e1a" stroke-width="1.4"/>
<line x1="557.1" y1="98.9" x2="570.9" y2="98.9" stroke="#a00e1a" stroke-width="1.4"/>
<line x1="564" y1="93.9" x2="564" y2="103.9" stroke="#a00e1a" stroke-width="1.4"/>
<line x1="559.8" y1="108" x2="580" y2="108" stroke="#a00e1a" stroke-width="1.4"/>
<line x1="567.2" y1="102" x2="567.2" y2="114" stroke="#a00e1a" stroke-width="1.4"/>
<line x1="563.3" y1="98.7" x2="577.1" y2="98.7" stroke="#a00e1a" stroke-width="1.4"/>
<line x1="570.2" y1="93.7" x2="570.2" y2="103.7" stroke="#a00e1a" stroke-width="1.4"/>
<line x1="568" y1="89.9" x2="581.8" y2="89.9" stroke="#a00e1a" stroke-width="1.4"/>
<line x1="574.9" y1="85.9" x2="574.9" y2="93.9" stroke="#a00e1a" stroke-width="1.4"/>
<line x1="571.2" y1="94.9" x2="585" y2="94.9" stroke="#a00e1a" stroke-width="1.4"/>
<line x1="578.1" y1="93.9" x2="578.1" y2="101.9" stroke="#a00e1a" stroke-width="1.4"/>
<line x1="577" y1="85" x2="590.8" y2="85" stroke="#a00e1a" stroke-width="1.4"/>
<line x1="583.9" y1="81" x2="583.9" y2="89" stroke="#a00e1a" stroke-width="1.4"/>
<line x1="579.8" y1="87.1" x2="593.6" y2="87.1" stroke="#a00e1a" stroke-width="1.4"/>
<line x1="586.7" y1="83.1" x2="586.7" y2="91.1" stroke="#a00e1a" stroke-width="1.4"/>
<line x1="578.4" y1="80.1" x2="592.2" y2="80.1" stroke="#a00e1a" stroke-width="1.4"/>
<line x1="585.3" y1="76.1" x2="585.3" y2="84.1" stroke="#a00e1a" stroke-width="1.4"/>
<line x1="582.3" y1="75.1" x2="596.1" y2="75.1" stroke="#a00e1a" stroke-width="1.4"/>
<line x1="589.2" y1="72.1" x2="589.2" y2="78.1" stroke="#a00e1a" stroke-width="1.4"/>
<line x1="585.3" y1="79.4" x2="599.1" y2="79.4" stroke="#a00e1a" stroke-width="1.4"/>
<line x1="592.2" y1="76.4" x2="592.2" y2="82.4" stroke="#a00e1a" stroke-width="1.4"/>
<line x1="592" y1="72.6" x2="605.8" y2="72.6" stroke="#a00e1a" stroke-width="1.4"/>
<line x1="598.9" y1="70.6" x2="598.9" y2="74.6" stroke="#a00e1a" stroke-width="1.4"/>
<line x1="596.2" y1="62.1" x2="610" y2="62.1" stroke="#a00e1a" stroke-width="1.4"/>
<line x1="603.1" y1="60.1" x2="603.1" y2="64.1" stroke="#a00e1a" stroke-width="1.4"/>
<line x1="599" y1="64.8" x2="612.8" y2="64.8" stroke="#a00e1a" stroke-width="1.4"/>
<line x1="605.9" y1="62.8" x2="605.9" y2="66.8" stroke="#a00e1a" stroke-width="1.4"/>
<line x1="605.9" y1="57.1" x2="619.7" y2="57.1" stroke="#a00e1a" stroke-width="1.4"/>
<line x1="612.7" y1="51.6" x2="626.5" y2="51.6" stroke="#a00e1a" stroke-width="1.4"/>
<line x1="619.8" y1="50.7" x2="633.6" y2="50.7" stroke="#a00e1a" stroke-width="1.4"/>
<line x1="626.9" y1="40.5" x2="640.7" y2="40.5" stroke="#a00e1a" stroke-width="1.4"/>
<line x1="634" y1="43.7" x2="647.8" y2="43.7" stroke="#a00e1a" stroke-width="1.4"/>
<line x1="638.6" y1="32" x2="652.4" y2="32" stroke="#a00e1a" stroke-width="1.4"/>
<line x1="641" y1="34" x2="654.8" y2="34" stroke="#a00e1a" stroke-width="1.4"/>
<line x1="647.8" y1="34" x2="661.6" y2="34" stroke="#a00e1a" stroke-width="1.4"/>
<line x1="655.3" y1="24.7" x2="669.1" y2="24.7" stroke="#a00e1a" stroke-width="1.4"/>
<line x1="659.1" y1="25.7" x2="672.9" y2="25.7" stroke="#a00e1a" stroke-width="1.4"/>
<line x1="662.5" y1="22.2" x2="676.3" y2="22.2" stroke="#a00e1a" stroke-width="1.4"/>
<line x1="668.4" y1="20.6" x2="682.2" y2="20.6" stroke="#a00e1a" stroke-width="1.4"/>
<line x1="682.7" y1="15.6" x2="696.5" y2="15.6" stroke="#a00e1a" stroke-width="1.4"/>
<line x1="689.6" y1="12.6" x2="689.6" y2="18.6" stroke="#a00e1a" stroke-width="1.4"/>
<line x1="687.1" y1="14.3" x2="700.9" y2="14.3" stroke="#a00e1a" stroke-width="1.4"/>
<line x1="694" y1="11.3" x2="694" y2="17.3" stroke="#a00e1a" stroke-width="1.4"/>
<line x1="697" y1="9.4" x2="710.8" y2="9.4" stroke="#a00e1a" stroke-width="1.4"/>
<line x1="703.9" y1="3.9" x2="703.9" y2="14.9" stroke="#a00e1a" stroke-width="1.4"/>
<path d="M526.0 259.2L528.6 243.1L531.1 228.3L533.7 214.7L536.2 202.1L538.8 190.4L541.3 179.6L543.9 169.6L546.5 160.3L549.0 151.7L551.6 143.7L554.1 136.3L556.7 129.4L559.2 123.0L561.8 117.1L564.4 111.6L566.9 106.4L569.5 101.6L572.0 97.1L574.6 92.8L577.1 88.9L579.7 85.2L582.3 81.7L584.8 78.4L587.4 75.4L589.9 72.5L592.5 69.7L595.0 67.1L597.6 64.7L600.2 62.3L602.7 60.1L605.3 58.0L607.8 56.0L610.4 54.1L612.9 52.2L615.5 50.4L618.1 48.7L620.6 47.1L623.2 45.5L625.7 44.0L628.3 42.5L630.8 41.1L633.4 39.7L635.9 38.3L638.5 37.0L641.1 35.7L643.6 34.5L646.2 33.2L648.7 32.0L651.3 30.9L653.8 29.7L656.4 28.6L659.0 27.4L661.5 26.3L664.1 25.2L666.6 24.2L669.2 23.1L671.7 22.1L674.3 21.0L676.9 20.0L679.4 19.0L682.0 17.9L684.5 16.9L687.1 15.9L689.6 14.9L692.2 14.0L694.8 13.0L697.3 12.0L699.9 11.0L702.4 10.1L705.0 9.1L707.5 8.1L710.1 7.2L712.7 6.2L715.2 5.3L717.8 4.3L720.3 3.4L722.9 2.4L725.4 1.5L728.0 0.6" fill="none" stroke="#d40212" stroke-width="1.9"/>
<path d="M526.0 149.0L528.6 146.2L531.1 143.4L533.7 140.6L536.2 137.8L538.8 135.0L541.3 132.2L543.9 129.4L546.5 126.5L549.0 123.7L551.6 120.9L554.1 118.1L556.7 115.4L559.2 112.6L561.8 109.8L564.4 107.0L566.9 104.2L569.5 101.5L572.0 98.7L574.6 96.0L577.1 93.2L579.7 90.5L582.3 87.8L584.8 85.1L587.4 82.5L589.9 79.8L592.5 77.2L595.0 74.6L597.6 72.1L600.2 69.6L602.7 67.1L605.3 64.7L607.8 62.4L610.4 60.1L612.9 57.9L615.5 55.7L618.1 53.6L620.6 51.6L623.2 49.7L625.7 47.8L628.3 46.0L630.8 44.3L633.4 42.7L635.9 41.1L638.5 39.6L641.1 38.1L643.6 36.7L646.2 35.4L648.7 34.1L651.3 32.8L653.8 31.5L656.4 30.3L659.0 29.2L661.5 28.0L664.1 26.9L666.6 25.8L669.2 24.7L671.7 23.6L674.3 22.5L676.9 21.4L679.4 20.4L682.0 19.3L684.5 18.3L687.1 17.2L689.6 16.2L692.2 15.2L694.8 14.1L697.3 13.1L699.9 12.1L702.4 11.1L705.0 10.1L707.5 9.0L710.1 8.0L712.7 7.0L715.2 6.0L717.8 5.0L720.3 4.0L722.9 2.9L725.4 1.9L728.0 0.9" fill="none" stroke="#f0640a" stroke-width="1.8" stroke-dasharray="6 3.5"/>
<path d="M526.0 284.2L528.6 266.6L531.1 250.4L533.7 235.4L536.2 221.5L538.8 208.7L541.3 196.8L543.9 185.8L546.5 175.6L549.0 166.2L551.6 157.5L554.1 149.3L556.7 141.8L559.2 134.8L561.8 128.2L564.4 122.2L566.9 116.5L569.5 111.2L572.0 106.3L574.6 101.6L577.1 97.3L579.7 93.2L582.3 89.4L584.8 85.8L587.4 82.5L589.9 79.3L592.5 76.3L595.0 73.4L597.6 70.7L600.2 68.2L602.7 65.7L605.3 63.4L607.8 61.2L610.4 59.1L612.9 57.1L615.5 55.1L618.1 53.2L620.6 51.5L623.2 49.7L625.7 48.0L628.3 46.4L630.8 44.9L633.4 43.3L635.9 41.9L638.5 40.4L641.1 39.0L643.6 37.6L646.2 36.3L648.7 35.0L651.3 33.7L653.8 32.4L656.4 31.2L659.0 29.9L661.5 28.7L664.1 27.5L666.6 26.3L669.2 25.2L671.7 24.0L674.3 22.9L676.9 21.8L679.4 20.6L682.0 19.5L684.5 18.4L687.1 17.3L689.6 16.2L692.2 15.2L694.8 14.1L697.3 13.0L699.9 12.0L702.4 10.9L705.0 9.8L707.5 8.8L710.1 7.7L712.7 6.7L715.2 5.7L717.8 4.6L720.3 3.6L722.9 2.6L725.4 1.5L728.0 0.5" fill="none" stroke="#d40212" stroke-width="1.9"/>
<path d="M526.0 157.7L528.6 154.6L531.1 151.4L533.7 148.2L536.2 145.1L538.8 141.9L541.3 138.8L543.9 135.6L546.5 132.5L549.0 129.4L551.6 126.2L554.1 123.1L556.7 119.9L559.2 116.8L561.8 113.7L564.4 110.6L566.9 107.5L569.5 104.4L572.0 101.3L574.6 98.2L577.1 95.2L579.7 92.2L582.3 89.2L584.8 86.2L587.4 83.2L589.9 80.3L592.5 77.5L595.0 74.7L597.6 72.0L600.2 69.3L602.7 66.7L605.3 64.2L607.8 61.8L610.4 59.4L612.9 57.2L615.5 55.0L618.1 53.0L620.6 51.1L623.2 49.2L625.7 47.5L628.3 45.8L630.8 44.2L633.4 42.7L635.9 41.2L638.5 39.8L641.1 38.4L643.6 37.1L646.2 35.8L648.7 34.6L651.3 33.4L653.8 32.2L656.4 31.0L659.0 29.8L661.5 28.7L664.1 27.6L666.6 26.4L669.2 25.3L671.7 24.2L674.3 23.1L676.9 22.0L679.4 20.9L682.0 19.8L684.5 18.7L687.1 17.6L689.6 16.5L692.2 15.5L694.8 14.4L697.3 13.3L699.9 12.2L702.4 11.1L705.0 10.0L707.5 9.0L710.1 7.9L712.7 6.8L715.2 5.7L717.8 4.6L720.3 3.5L722.9 2.5L725.4 1.4L728.0 0.3" fill="none" stroke="#d40212" stroke-width="1.9"/>
<circle cx="546" cy="123.9" r="2.8" fill="#a00e1a"/>
<circle cx="555.6" cy="105.3" r="2.8" fill="#a00e1a"/>
<circle cx="564" cy="98.9" r="2.8" fill="#a00e1a"/>
<circle cx="567.2" cy="108" r="2.8" fill="#a00e1a"/>
<circle cx="570.2" cy="98.7" r="2.8" fill="#a00e1a"/>
<circle cx="574.9" cy="89.9" r="2.8" fill="#a00e1a"/>
<circle cx="578.1" cy="94.9" r="2.8" fill="#a00e1a"/>
<circle cx="583.9" cy="85" r="2.8" fill="#a00e1a"/>
<circle cx="586.7" cy="87.1" r="2.8" fill="#a00e1a"/>
<circle cx="585.3" cy="80.1" r="2.8" fill="#a00e1a"/>
<circle cx="589.2" cy="75.1" r="2.8" fill="#a00e1a"/>
<circle cx="592.2" cy="79.4" r="2.8" fill="#a00e1a"/>
<circle cx="598.9" cy="72.6" r="2.8" fill="#a00e1a"/>
<circle cx="603.1" cy="62.1" r="2.8" fill="#a00e1a"/>
<circle cx="605.9" cy="64.8" r="2.8" fill="#a00e1a"/>
<circle cx="612.8" cy="57.1" r="2.8" fill="#a00e1a"/>
<circle cx="619.6" cy="51.6" r="2.8" fill="#a00e1a"/>
<circle cx="626.7" cy="50.7" r="2.8" fill="#a00e1a"/>
<circle cx="633.8" cy="40.5" r="2.8" fill="#a00e1a"/>
<circle cx="640.9" cy="43.7" r="2.8" fill="#a00e1a"/>
<circle cx="645.5" cy="32" r="2.8" fill="#a00e1a"/>
<circle cx="647.9" cy="34" r="2.8" fill="#a00e1a"/>
<circle cx="654.7" cy="34" r="2.8" fill="#a00e1a"/>
<circle cx="662.2" cy="24.7" r="2.8" fill="#a00e1a"/>
<circle cx="666" cy="25.7" r="2.8" fill="#a00e1a"/>
<circle cx="669.4" cy="22.2" r="2.8" fill="#a00e1a"/>
<circle cx="675.3" cy="20.6" r="2.8" fill="#a00e1a"/>
<circle cx="689.6" cy="15.6" r="2.8" fill="#a00e1a"/>
<circle cx="694" cy="14.3" r="2.8" fill="#a00e1a"/>
<circle cx="703.9" cy="9.4" r="2.8" fill="#a00e1a"/>
<path d="M644.6 105.4H666.9V85.1" fill="none" stroke="#3a8fd6" stroke-width="1.8" stroke-linejoin="miter"/>
<path d="M672.6 77.8H694.9V57.5" fill="none" stroke="#35a556" stroke-width="1.8" stroke-linejoin="miter"/>
</g>
<text x="543.23" y="157.8" text-anchor="middle">-23</text>
<text x="571.09" y="157.8" text-anchor="middle">-22</text>
<text x="598.94" y="157.8" text-anchor="middle">-21</text>
<text x="626.8" y="157.8" text-anchor="middle">-20</text>
<text x="654.66" y="157.8" text-anchor="middle">-19</text>
<text x="682.51" y="157.8" text-anchor="middle">-18</text>
<text x="710.37" y="157.8" text-anchor="middle">-17</text>
<text x="525.1" y="131.75" text-anchor="end">-7</text>
<text x="525.1" y="106.7" text-anchor="end">-6</text>
<text x="525.1" y="81.65" text-anchor="end">-5</text>
<text x="525.1" y="56.6" text-anchor="end">-4</text>
<text x="525.1" y="31.55" text-anchor="end">-3</text>
<text x="525.1" y="9.5" text-anchor="end">-2</text>
<text x="615.3" y="173.5">M<tspan style="font-size:8.9px" dy="3.4">UV</tspan></text>
<text transform="translate(502.1 71.1) rotate(-90)" text-anchor="middle" style="font-size:13.9px">log<tspan style="font-size:9.6px" dy="3.4">10</tspan><tspan dy="-3.4">(Φ [Mpc</tspan><tspan style="font-size:9.6px" dy="-7">-3</tspan><tspan dy="7"> mag</tspan><tspan style="font-size:9.6px" dy="-7">-1</tspan><tspan dy="7">])</tspan></text>
<text x="548.7" y="24.6" style="font-size:19.9px">z~8</text>
</g>
<g>
<clipPath id="c10"><rect x="40" y="184.2" width="196.6" height="139.4"/></clipPath>
<rect x="137.15" y="185" width="8.35" height="137.8" fill="#d5d5d5"/>
<rect x="145.5" y="185" width="90.3" height="137.8" fill="#c1c1c1"/>
<path d="M43.59 322.8v-1.4M43.59 185v1.4M46.37 322.8v-1.4M46.37 185v1.4M49.16 322.8v-1.4M49.16 185v1.4M51.94 322.8v-1.4M51.94 185v1.4M54.73 322.8v-2.5M54.73 185v2.5M57.52 322.8v-1.4M57.52 185v1.4M60.3 322.8v-1.4M60.3 185v1.4M63.09 322.8v-1.4M63.09 185v1.4M65.87 322.8v-1.4M65.87 185v1.4M68.66 322.8v-1.4M68.66 185v1.4M71.44 322.8v-1.4M71.44 185v1.4M74.23 322.8v-1.4M74.23 185v1.4M77.02 322.8v-1.4M77.02 185v1.4M79.8 322.8v-1.4M79.8 185v1.4M82.59 322.8v-2.5M82.59 185v2.5M85.37 322.8v-1.4M85.37 185v1.4M88.16 322.8v-1.4M88.16 185v1.4M90.94 322.8v-1.4M90.94 185v1.4M93.73 322.8v-1.4M93.73 185v1.4M96.52 322.8v-1.4M96.52 185v1.4M99.3 322.8v-1.4M99.3 185v1.4M102.09 322.8v-1.4M102.09 185v1.4M104.87 322.8v-1.4M104.87 185v1.4M107.66 322.8v-1.4M107.66 185v1.4M110.44 322.8v-2.5M110.44 185v2.5M113.23 322.8v-1.4M113.23 185v1.4M116.02 322.8v-1.4M116.02 185v1.4M118.8 322.8v-1.4M118.8 185v1.4M121.59 322.8v-1.4M121.59 185v1.4M124.37 322.8v-1.4M124.37 185v1.4M127.16 322.8v-1.4M127.16 185v1.4M129.94 322.8v-1.4M129.94 185v1.4M132.73 322.8v-1.4M132.73 185v1.4M135.52 322.8v-1.4M135.52 185v1.4M138.3 322.8v-2.5M138.3 185v2.5M141.09 322.8v-1.4M141.09 185v1.4M143.87 322.8v-1.4M143.87 185v1.4M146.66 322.8v-1.4M146.66 185v1.4M149.44 322.8v-1.4M149.44 185v1.4M152.23 322.8v-1.4M152.23 185v1.4M155.02 322.8v-1.4M155.02 185v1.4M157.8 322.8v-1.4M157.8 185v1.4M160.59 322.8v-1.4M160.59 185v1.4M163.37 322.8v-1.4M163.37 185v1.4M166.16 322.8v-2.5M166.16 185v2.5M168.94 322.8v-1.4M168.94 185v1.4M171.73 322.8v-1.4M171.73 185v1.4M174.52 322.8v-1.4M174.52 185v1.4M177.3 322.8v-1.4M177.3 185v1.4M180.09 322.8v-1.4M180.09 185v1.4M182.87 322.8v-1.4M182.87 185v1.4M185.66 322.8v-1.4M185.66 185v1.4M188.44 322.8v-1.4M188.44 185v1.4M191.23 322.8v-1.4M191.23 185v1.4M194.01 322.8v-2.5M194.01 185v2.5M196.8 322.8v-1.4M196.8 185v1.4M199.59 322.8v-1.4M199.59 185v1.4M202.37 322.8v-1.4M202.37 185v1.4M205.16 322.8v-1.4M205.16 185v1.4M207.94 322.8v-1.4M207.94 185v1.4M210.73 322.8v-1.4M210.73 185v1.4M213.51 322.8v-1.4M213.51 185v1.4M216.3 322.8v-1.4M216.3 185v1.4M219.09 322.8v-1.4M219.09 185v1.4M221.87 322.8v-2.5M221.87 185v2.5M224.66 322.8v-1.4M224.66 185v1.4M227.44 322.8v-1.4M227.44 185v1.4M230.23 322.8v-1.4M230.23 185v1.4M233.01 322.8v-1.4M233.01 185v1.4M40.8 320.27h1.9M235.8 320.27h-1.9M40.8 317.76h1.9M235.8 317.76h-1.9M40.8 315.26h1.9M235.8 315.26h-1.9M40.8 312.75h1.9M235.8 312.75h-1.9M40.8 310.25h3.5M235.8 310.25h-3.5M40.8 307.75h1.9M235.8 307.75h-1.9M40.8 305.24h1.9M235.8 305.24h-1.9M40.8 302.74h1.9M235.8 302.74h-1.9M40.8 300.23h1.9M235.8 300.23h-1.9M40.8 297.73h1.9M235.8 297.73h-1.9M40.8 295.22h1.9M235.8 295.22h-1.9M40.8 292.72h1.9M235.8 292.72h-1.9M40.8 290.21h1.9M235.8 290.21h-1.9M40.8 287.7h1.9M235.8 287.7h-1.9M40.8 285.2h3.5M235.8 285.2h-3.5M40.8 282.69h1.9M235.8 282.69h-1.9M40.8 280.19h1.9M235.8 280.19h-1.9M40.8 277.69h1.9M235.8 277.69h-1.9M40.8 275.18h1.9M235.8 275.18h-1.9M40.8 272.68h1.9M235.8 272.68h-1.9M40.8 270.17h1.9M235.8 270.17h-1.9M40.8 267.66h1.9M235.8 267.66h-1.9M40.8 265.16h1.9M235.8 265.16h-1.9M40.8 262.65h1.9M235.8 262.65h-1.9M40.8 260.15h3.5M235.8 260.15h-3.5M40.8 257.64h1.9M235.8 257.64h-1.9M40.8 255.14h1.9M235.8 255.14h-1.9M40.8 252.63h1.9M235.8 252.63h-1.9M40.8 250.13h1.9M235.8 250.13h-1.9M40.8 247.62h1.9M235.8 247.62h-1.9M40.8 245.12h1.9M235.8 245.12h-1.9M40.8 242.62h1.9M235.8 242.62h-1.9M40.8 240.11h1.9M235.8 240.11h-1.9M40.8 237.6h1.9M235.8 237.6h-1.9M40.8 235.1h3.5M235.8 235.1h-3.5M40.8 232.59h1.9M235.8 232.59h-1.9M40.8 230.09h1.9M235.8 230.09h-1.9M40.8 227.59h1.9M235.8 227.59h-1.9M40.8 225.08h1.9M235.8 225.08h-1.9M40.8 222.57h1.9M235.8 222.57h-1.9M40.8 220.07h1.9M235.8 220.07h-1.9M40.8 217.56h1.9M235.8 217.56h-1.9M40.8 215.06h1.9M235.8 215.06h-1.9M40.8 212.56h1.9M235.8 212.56h-1.9M40.8 210.05h3.5M235.8 210.05h-3.5M40.8 207.54h1.9M235.8 207.54h-1.9M40.8 205.04h1.9M235.8 205.04h-1.9M40.8 202.53h1.9M235.8 202.53h-1.9M40.8 200.03h1.9M235.8 200.03h-1.9M40.8 197.53h1.9M235.8 197.53h-1.9M40.8 195.02h1.9M235.8 195.02h-1.9M40.8 192.51h1.9M235.8 192.51h-1.9M40.8 190.01h1.9M235.8 190.01h-1.9M40.8 187.5h1.9M235.8 187.5h-1.9" stroke="#000" stroke-width="1.15" fill="none"/>
<rect x="40.8" y="185" width="195" height="137.8" fill="none" stroke="#000" stroke-width="1.55"/>
<g clip-path="url(#c10)">
<line x1="40.8" y1="299" x2="235.8" y2="299" stroke="#111" stroke-width="1.5" stroke-dasharray="5.3 4.25" stroke-dashoffset="0"/>
<line x1="42.9" y1="305.3" x2="70.9" y2="305.3" stroke="#a00e1a" stroke-width="1.4"/>
<line x1="56.9" y1="300" x2="56.9" y2="318" stroke="#a00e1a" stroke-width="1.4"/>
<line x1="60.5" y1="304.9" x2="87.5" y2="304.9" stroke="#a00e1a" stroke-width="1.4"/>
<line x1="74" y1="280.9" x2="74" y2="334.9" stroke="#a00e1a" stroke-width="1.4"/>
<line x1="55" y1="287.8" x2="82" y2="287.8" stroke="#a00e1a" stroke-width="1.4"/>
<line x1="68.5" y1="279.8" x2="68.5" y2="295.8" stroke="#a00e1a" stroke-width="1.4"/>
<line x1="72.6" y1="282.2" x2="72.6" y2="304.7" stroke="#a00e1a" stroke-width="1.4"/>
<line x1="82.8" y1="286.7" x2="82.8" y2="302.7" stroke="#a00e1a" stroke-width="1.4"/>
<line x1="77.7" y1="287.8" x2="91.7" y2="287.8" stroke="#a00e1a" stroke-width="1.4"/>
<line x1="84.7" y1="281.8" x2="84.7" y2="293.8" stroke="#a00e1a" stroke-width="1.4"/>
<line x1="93.1" y1="278.2" x2="93.1" y2="290.2" stroke="#a00e1a" stroke-width="1.4"/>
<line x1="104.2" y1="272" x2="104.2" y2="288" stroke="#a00e1a" stroke-width="1.4"/>
<line x1="82.2" y1="271.8" x2="96.2" y2="271.8" stroke="#a00e1a" stroke-width="1.4"/>
<line x1="89.2" y1="265.8" x2="89.2" y2="277.8" stroke="#a00e1a" stroke-width="1.4"/>
<line x1="88.7" y1="272.8" x2="114.7" y2="272.8" stroke="#a00e1a" stroke-width="1.4"/>
<line x1="101.7" y1="265.8" x2="101.7" y2="279.8" stroke="#a00e1a" stroke-width="1.4"/>
<line x1="97.2" y1="264.4" x2="117.2" y2="264.4" stroke="#a00e1a" stroke-width="1.4"/>
<line x1="107.2" y1="259.4" x2="107.2" y2="269.4" stroke="#a00e1a" stroke-width="1.4"/>
<line x1="119.4" y1="250" x2="139.4" y2="250" stroke="#a00e1a" stroke-width="1.4"/>
<line x1="129.4" y1="246" x2="129.4" y2="254" stroke="#a00e1a" stroke-width="1.4"/>
<line x1="119" y1="240.8" x2="146" y2="240.8" stroke="#a00e1a" stroke-width="1.4"/>
<line x1="132.5" y1="235.8" x2="132.5" y2="245.8" stroke="#a00e1a" stroke-width="1.4"/>
<line x1="146.6" y1="221.1" x2="174.6" y2="221.1" stroke="#a00e1a" stroke-width="1.4"/>
<line x1="160.6" y1="217.1" x2="160.6" y2="225.1" stroke="#a00e1a" stroke-width="1.4"/>
<line x1="146.5" y1="228.4" x2="179.5" y2="228.4" stroke="#a00e1a" stroke-width="1.4"/>
<line x1="162.5" y1="223.4" x2="162.5" y2="245.4" stroke="#a00e1a" stroke-width="1.4"/>
<line x1="166.8" y1="207.9" x2="193.8" y2="207.9" stroke="#a00e1a" stroke-width="1.4"/>
<line x1="180.3" y1="202.9" x2="180.3" y2="212.9" stroke="#a00e1a" stroke-width="1.4"/>
<line x1="187.2" y1="204.4" x2="201.2" y2="204.4" stroke="#a00e1a" stroke-width="1.4"/>
<line x1="194.2" y1="200.4" x2="194.2" y2="208.4" stroke="#a00e1a" stroke-width="1.4"/>
<line x1="180.25" y1="210.7" x2="212.25" y2="210.7" stroke="#a00e1a" stroke-width="1.4"/>
<line x1="196.25" y1="204.7" x2="196.25" y2="219.7" stroke="#a00e1a" stroke-width="1.4"/>
<line x1="207.8" y1="196.7" x2="207.8" y2="206.7" stroke="#a00e1a" stroke-width="1.4"/>
<path d="M38.0 487.8L40.6 469.3L43.1 452.2L45.7 436.4L48.2 421.8L50.8 408.3L53.3 395.8L55.9 384.2L58.5 373.4L61.0 363.5L63.6 354.2L66.1 345.6L68.7 337.6L71.2 330.2L73.8 323.2L76.4 316.8L78.9 310.7L81.5 305.1L84.0 299.8L86.6 294.9L89.1 290.2L91.7 285.9L94.3 281.8L96.8 277.9L99.4 274.3L101.9 270.9L104.5 267.6L107.0 264.6L109.6 261.6L112.2 258.9L114.7 256.2L117.3 253.7L119.8 251.3L122.4 248.9L124.9 246.7L127.5 244.6L130.1 242.5L132.6 240.6L135.2 238.7L137.7 236.8L140.3 235.0L142.8 233.3L145.4 231.6L147.9 229.9L150.5 228.3L153.1 226.7L155.6 225.2L158.2 223.7L160.7 222.2L163.3 220.8L165.8 219.3L168.4 217.9L171.0 216.5L173.5 215.2L176.1 213.8L178.6 212.5L181.2 211.2L183.7 209.9L186.3 208.6L188.9 207.3L191.4 206.0L194.0 204.8L196.5 203.5L199.1 202.3L201.6 201.0L204.2 199.8L206.8 198.6L209.3 197.3L211.9 196.1L214.4 194.9L217.0 193.7L219.5 192.5L222.1 191.3L224.7 190.1L227.2 188.9L229.8 187.8L232.3 186.6L234.9 185.4L237.4 184.2L240.0 183.0" fill="none" stroke="#d40212" stroke-width="1.9"/>
<path d="M38.0 332.0L40.6 329.5L43.1 327.0L45.7 324.5L48.2 322.0L50.8 319.5L53.3 317.0L55.9 314.5L58.5 312.0L61.0 309.4L63.6 306.9L66.1 304.4L68.7 302.0L71.2 299.5L73.8 297.0L76.4 294.5L78.9 292.0L81.5 289.5L84.0 287.0L86.6 284.6L89.1 282.1L91.7 279.6L94.3 277.2L96.8 274.7L99.4 272.3L101.9 269.9L104.5 267.5L107.0 265.1L109.6 262.7L112.2 260.3L114.7 258.0L117.3 255.7L119.8 253.4L122.4 251.1L124.9 248.9L127.5 246.7L130.1 244.5L132.6 242.4L135.2 240.3L137.7 238.3L140.3 236.3L142.8 234.4L145.4 232.5L147.9 230.7L150.5 228.9L153.1 227.2L155.6 225.5L158.2 223.9L160.7 222.3L163.3 220.8L165.8 219.4L168.4 217.9L171.0 216.6L173.5 215.2L176.1 213.9L178.6 212.7L181.2 211.5L183.7 210.3L186.3 209.1L188.9 208.0L191.4 206.8L194.0 205.7L196.5 204.6L199.1 203.6L201.6 202.5L204.2 201.4L206.8 200.4L209.3 199.4L211.9 198.3L214.4 197.3L217.0 196.3L219.5 195.3L222.1 194.3L224.7 193.3L227.2 192.3L229.8 191.3L232.3 190.4L234.9 189.4L237.4 188.4L240.0 187.4" fill="none" stroke="#f0640a" stroke-width="1.8" stroke-dasharray="6 3.5"/>
<path d="M38.0 357.8L40.6 354.7L43.1 351.5L45.7 348.4L48.2 345.3L50.8 342.1L53.3 339.0L55.9 335.9L58.5 332.8L61.0 329.6L63.6 326.5L66.1 323.4L68.7 320.3L71.2 317.2L73.8 314.1L76.4 311.0L78.9 307.9L81.5 304.8L84.0 301.7L86.6 298.7L89.1 295.6L91.7 292.6L94.3 289.6L96.8 286.6L99.4 283.6L101.9 280.6L104.5 277.7L107.0 274.8L109.6 272.0L112.2 269.2L114.7 266.4L117.3 263.7L119.8 261.1L122.4 258.5L124.9 256.1L127.5 253.6L130.1 251.3L132.6 249.0L135.2 246.9L137.7 244.8L140.3 242.7L142.8 240.8L145.4 238.9L147.9 237.1L150.5 235.4L153.1 233.7L155.6 232.1L158.2 230.5L160.7 229.0L163.3 227.5L165.8 226.1L168.4 224.6L171.0 223.2L173.5 221.9L176.1 220.5L178.6 219.1L181.2 217.8L183.7 216.5L186.3 215.2L188.9 213.9L191.4 212.6L194.0 211.3L196.5 210.0L199.1 208.7L201.6 207.5L204.2 206.2L206.8 204.9L209.3 203.7L211.9 202.4L214.4 201.1L217.0 199.9L219.5 198.6L222.1 197.4L224.7 196.1L227.2 194.9L229.8 193.6L232.3 192.3L234.9 191.1L237.4 189.8L240.0 188.6" fill="none" stroke="#d40212" stroke-width="1.9"/>
<circle cx="56.9" cy="305.3" r="2.8" fill="#a00e1a"/>
<circle cx="74" cy="304.9" r="2.8" fill="#a00e1a"/>
<circle cx="68.5" cy="287.8" r="2.8" fill="#a00e1a"/>
<circle cx="72.6" cy="294.7" r="2.8" fill="#a00e1a"/>
<circle cx="82.8" cy="294.7" r="2.8" fill="#a00e1a"/>
<circle cx="84.7" cy="287.8" r="2.8" fill="#a00e1a"/>
<circle cx="93.1" cy="284.2" r="2.8" fill="#a00e1a"/>
<circle cx="104.2" cy="280" r="2.8" fill="#a00e1a"/>
<circle cx="89.2" cy="271.8" r="2.8" fill="#a00e1a"/>
<circle cx="101.7" cy="272.8" r="2.8" fill="#a00e1a"/>
<circle cx="107.2" cy="264.4" r="2.8" fill="#a00e1a"/>
<circle cx="129.4" cy="250" r="2.8" fill="#a00e1a"/>
<circle cx="132.5" cy="240.8" r="2.8" fill="#a00e1a"/>
<circle cx="160.6" cy="221.1" r="2.8" fill="#a00e1a"/>
<circle cx="162.5" cy="228.4" r="2.8" fill="#a00e1a"/>
<circle cx="180.3" cy="207.9" r="2.8" fill="#a00e1a"/>
<circle cx="194.2" cy="204.4" r="2.8" fill="#a00e1a"/>
<circle cx="196.25" cy="210.7" r="2.8" fill="#a00e1a"/>
<circle cx="207.8" cy="201.7" r="2.8" fill="#a00e1a"/>
<path d="M151 287.2H173.3V266.9" fill="none" stroke="#3a8fd6" stroke-width="1.8" stroke-linejoin="miter"/>
<path d="M178.8 260.1H201.1V239.8" fill="none" stroke="#35a556" stroke-width="1.8" stroke-linejoin="miter"/>
</g>
<text x="54.53" y="340.9" text-anchor="middle">-23</text>
<text x="82.39" y="340.9" text-anchor="middle">-22</text>
<text x="110.24" y="340.9" text-anchor="middle">-21</text>
<text x="138.1" y="340.9" text-anchor="middle">-20</text>
<text x="165.96" y="340.9" text-anchor="middle">-19</text>
<text x="193.81" y="340.9" text-anchor="middle">-18</text>
<text x="221.67" y="340.9" text-anchor="middle">-17</text>
<text x="36.4" y="314.85" text-anchor="end">-7</text>
<text x="36.4" y="289.8" text-anchor="end">-6</text>
<text x="36.4" y="264.75" text-anchor="end">-5</text>
<text x="36.4" y="239.7" text-anchor="end">-4</text>
<text x="36.4" y="214.65" text-anchor="end">-3</text>
<text x="36.4" y="192.6" text-anchor="end">-2</text>
<text x="126.6" y="356.6">M<tspan style="font-size:8.9px" dy="3.4">UV</tspan></text>
<text transform="translate(13.4 254.2) rotate(-90)" text-anchor="middle" style="font-size:13.9px">log<tspan style="font-size:9.6px" dy="3.4">10</tspan><tspan dy="-3.4">(Φ [Mpc</tspan><tspan style="font-size:9.6px" dy="-7">-3</tspan><tspan dy="7"> mag</tspan><tspan style="font-size:9.6px" dy="-7">-1</tspan><tspan dy="7">])</tspan></text>
<text x="60" y="207.7" style="font-size:19.9px">z~9</text>
</g>
<g>
<clipPath id="c11"><rect x="284.3" y="184.2" width="196.6" height="139.4"/></clipPath>
<rect x="376.9" y="185" width="8.3" height="137.8" fill="#d5d5d5"/>
<rect x="385.2" y="185" width="94.9" height="137.8" fill="#c1c1c1"/>
<path d="M287.89 322.8v-1.4M287.89 185v1.4M290.67 322.8v-1.4M290.67 185v1.4M293.46 322.8v-1.4M293.46 185v1.4M296.24 322.8v-1.4M296.24 185v1.4M299.03 322.8v-2.5M299.03 185v2.5M301.82 322.8v-1.4M301.82 185v1.4M304.6 322.8v-1.4M304.6 185v1.4M307.39 322.8v-1.4M307.39 185v1.4M310.17 322.8v-1.4M310.17 185v1.4M312.96 322.8v-1.4M312.96 185v1.4M315.74 322.8v-1.4M315.74 185v1.4M318.53 322.8v-1.4M318.53 185v1.4M321.32 322.8v-1.4M321.32 185v1.4M324.1 322.8v-1.4M324.1 185v1.4M326.89 322.8v-2.5M326.89 185v2.5M329.67 322.8v-1.4M329.67 185v1.4M332.46 322.8v-1.4M332.46 185v1.4M335.24 322.8v-1.4M335.24 185v1.4M338.03 322.8v-1.4M338.03 185v1.4M340.82 322.8v-1.4M340.82 185v1.4M343.6 322.8v-1.4M343.6 185v1.4M346.39 322.8v-1.4M346.39 185v1.4M349.17 322.8v-1.4M349.17 185v1.4M351.96 322.8v-1.4M351.96 185v1.4M354.74 322.8v-2.5M354.74 185v2.5M357.53 322.8v-1.4M357.53 185v1.4M360.32 322.8v-1.4M360.32 185v1.4M363.1 322.8v-1.4M363.1 185v1.4M365.89 322.8v-1.4M365.89 185v1.4M368.67 322.8v-1.4M368.67 185v1.4M371.46 322.8v-1.4M371.46 185v1.4M374.24 322.8v-1.4M374.24 185v1.4M377.03 322.8v-1.4M377.03 185v1.4M379.82 322.8v-1.4M379.82 185v1.4M382.6 322.8v-2.5M382.6 185v2.5M385.39 322.8v-1.4M385.39 185v1.4M388.17 322.8v-1.4M388.17 185v1.4M390.96 322.8v-1.4M390.96 185v1.4M393.74 322.8v-1.4M393.74 185v1.4M396.53 322.8v-1.4M396.53 185v1.4M399.32 322.8v-1.4M399.32 185v1.4M402.1 322.8v-1.4M402.1 185v1.4M404.89 322.8v-1.4M404.89 185v1.4M407.67 322.8v-1.4M407.67 185v1.4M410.46 322.8v-2.5M410.46 185v2.5M413.24 322.8v-1.4M413.24 185v1.4M416.03 322.8v-1.4M416.03 185v1.4M418.82 322.8v-1.4M418.82 185v1.4M421.6 322.8v-1.4M421.6 185v1.4M424.39 322.8v-1.4M424.39 185v1.4M427.17 322.8v-1.4M427.17 185v1.4M429.96 322.8v-1.4M429.96 185v1.4M432.74 322.8v-1.4M432.74 185v1.4M435.53 322.8v-1.4M435.53 185v1.4M438.32 322.8v-2.5M438.32 185v2.5M441.1 322.8v-1.4M441.1 185v1.4M443.89 322.8v-1.4M443.89 185v1.4M446.67 322.8v-1.4M446.67 185v1.4M449.46 322.8v-1.4M449.46 185v1.4M452.24 322.8v-1.4M452.24 185v1.4M455.03 322.8v-1.4M455.03 185v1.4M457.81 322.8v-1.4M457.81 185v1.4M460.6 322.8v-1.4M460.6 185v1.4M463.39 322.8v-1.4M463.39 185v1.4M466.17 322.8v-2.5M466.17 185v2.5M468.96 322.8v-1.4M468.96 185v1.4M471.74 322.8v-1.4M471.74 185v1.4M474.53 322.8v-1.4M474.53 185v1.4M477.31 322.8v-1.4M477.31 185v1.4M285.1 320.27h1.9M480.1 320.27h-1.9M285.1 317.76h1.9M480.1 317.76h-1.9M285.1 315.26h1.9M480.1 315.26h-1.9M285.1 312.75h1.9M480.1 312.75h-1.9M285.1 310.25h3.5M480.1 310.25h-3.5M285.1 307.75h1.9M480.1 307.75h-1.9M285.1 305.24h1.9M480.1 305.24h-1.9M285.1 302.74h1.9M480.1 302.74h-1.9M285.1 300.23h1.9M480.1 300.23h-1.9M285.1 297.73h1.9M480.1 297.73h-1.9M285.1 295.22h1.9M480.1 295.22h-1.9M285.1 292.72h1.9M480.1 292.72h-1.9M285.1 290.21h1.9M480.1 290.21h-1.9M285.1 287.7h1.9M480.1 287.7h-1.9M285.1 285.2h3.5M480.1 285.2h-3.5M285.1 282.69h1.9M480.1 282.69h-1.9M285.1 280.19h1.9M480.1 280.19h-1.9M285.1 277.69h1.9M480.1 277.69h-1.9M285.1 275.18h1.9M480.1 275.18h-1.9M285.1 272.68h1.9M480.1 272.68h-1.9M285.1 270.17h1.9M480.1 270.17h-1.9M285.1 267.66h1.9M480.1 267.66h-1.9M285.1 265.16h1.9M480.1 265.16h-1.9M285.1 262.65h1.9M480.1 262.65h-1.9M285.1 260.15h3.5M480.1 260.15h-3.5M285.1 257.64h1.9M480.1 257.64h-1.9M285.1 255.14h1.9M480.1 255.14h-1.9M285.1 252.63h1.9M480.1 252.63h-1.9M285.1 250.13h1.9M480.1 250.13h-1.9M285.1 247.62h1.9M480.1 247.62h-1.9M285.1 245.12h1.9M480.1 245.12h-1.9M285.1 242.62h1.9M480.1 242.62h-1.9M285.1 240.11h1.9M480.1 240.11h-1.9M285.1 237.6h1.9M480.1 237.6h-1.9M285.1 235.1h3.5M480.1 235.1h-3.5M285.1 232.59h1.9M480.1 232.59h-1.9M285.1 230.09h1.9M480.1 230.09h-1.9M285.1 227.59h1.9M480.1 227.59h-1.9M285.1 225.08h1.9M480.1 225.08h-1.9M285.1 222.57h1.9M480.1 222.57h-1.9M285.1 220.07h1.9M480.1 220.07h-1.9M285.1 217.56h1.9M480.1 217.56h-1.9M285.1 215.06h1.9M480.1 215.06h-1.9M285.1 212.56h1.9M480.1 212.56h-1.9M285.1 210.05h3.5M480.1 210.05h-3.5M285.1 207.54h1.9M480.1 207.54h-1.9M285.1 205.04h1.9M480.1 205.04h-1.9M285.1 202.53h1.9M480.1 202.53h-1.9M285.1 200.03h1.9M480.1 200.03h-1.9M285.1 197.53h1.9M480.1 197.53h-1.9M285.1 195.02h1.9M480.1 195.02h-1.9M285.1 192.51h1.9M480.1 192.51h-1.9M285.1 190.01h1.9M480.1 190.01h-1.9M285.1 187.5h1.9M480.1 187.5h-1.9" stroke="#000" stroke-width="1.15" fill="none"/>
<rect x="285.1" y="185" width="195" height="137.8" fill="none" stroke="#000" stroke-width="1.55"/>
<g clip-path="url(#c11)">
<line x1="285.1" y1="298.1" x2="480.1" y2="298.1" stroke="#111" stroke-width="1.5" stroke-dasharray="5.3 4.25" stroke-dashoffset="0"/>
<line x1="296.4" y1="304.3" x2="324.4" y2="304.3" stroke="#a00e1a" stroke-width="1.4"/>
<line x1="310.4" y1="291.8" x2="310.4" y2="334.3" stroke="#a00e1a" stroke-width="1.4"/>
<line x1="298.2" y1="302.6" x2="326.2" y2="302.6" stroke="#a00e1a" stroke-width="1.4"/>
<line x1="312.2" y1="291.6" x2="312.2" y2="332.6" stroke="#a00e1a" stroke-width="1.4"/>
<line x1="333.5" y1="285.4" x2="361.5" y2="285.4" stroke="#a00e1a" stroke-width="1.4"/>
<line x1="347.5" y1="277.8" x2="347.5" y2="335.4" stroke="#a00e1a" stroke-width="1.4"/>
<line x1="361.6" y1="260.4" x2="389.6" y2="260.4" stroke="#a00e1a" stroke-width="1.4"/>
<line x1="375.6" y1="253.9" x2="375.6" y2="266.9" stroke="#a00e1a" stroke-width="1.4"/>
<line x1="365.7" y1="254.9" x2="393.7" y2="254.9" stroke="#a00e1a" stroke-width="1.4"/>
<line x1="379.7" y1="247.9" x2="379.7" y2="266.6" stroke="#a00e1a" stroke-width="1.4"/>
<line x1="393.4" y1="247" x2="416.9" y2="247" stroke="#a00e1a" stroke-width="1.4"/>
<line x1="403.4" y1="241.7" x2="403.4" y2="258.4" stroke="#a00e1a" stroke-width="1.4"/>
<line x1="393.7" y1="231.6" x2="407.7" y2="231.6" stroke="#a00e1a" stroke-width="1.4"/>
<line x1="400.7" y1="227.1" x2="400.7" y2="236.1" stroke="#a00e1a" stroke-width="1.4"/>
<line x1="407.5" y1="226" x2="421.5" y2="226" stroke="#a00e1a" stroke-width="1.4"/>
<line x1="414.5" y1="224" x2="414.5" y2="228" stroke="#a00e1a" stroke-width="1.4"/>
<line x1="421.4" y1="214.9" x2="442.4" y2="214.9" stroke="#a00e1a" stroke-width="1.4"/>
<line x1="431.9" y1="209.9" x2="431.9" y2="219.9" stroke="#a00e1a" stroke-width="1.4"/>
<line x1="417.5" y1="228.2" x2="445.5" y2="228.2" stroke="#a00e1a" stroke-width="1.4"/>
<line x1="431.5" y1="222.2" x2="431.5" y2="239.2" stroke="#a00e1a" stroke-width="1.4"/>
<line x1="446.1" y1="214.9" x2="473.1" y2="214.9" stroke="#a00e1a" stroke-width="1.4"/>
<line x1="459.6" y1="208.6" x2="459.6" y2="233.9" stroke="#a00e1a" stroke-width="1.4"/>
<path d="M282.0 538.5L284.6 516.4L287.1 496.0L289.7 477.1L292.2 459.7L294.8 443.6L297.3 428.7L299.9 414.9L302.5 402.2L305.0 390.4L307.6 379.4L310.1 369.2L312.7 359.8L315.2 351.0L317.8 342.9L320.4 335.3L322.9 328.2L325.5 321.6L328.0 315.5L330.6 309.7L333.1 304.3L335.7 299.3L338.3 294.5L340.8 290.1L343.4 285.9L345.9 282.0L348.5 278.3L351.0 274.8L353.6 271.4L356.2 268.3L358.7 265.3L361.3 262.5L363.8 259.7L366.4 257.2L368.9 254.7L371.5 252.3L374.1 250.0L376.6 247.9L379.2 245.8L381.7 243.7L384.3 241.8L386.8 239.9L389.4 238.0L391.9 236.2L394.5 234.5L397.1 232.8L399.6 231.2L402.2 229.5L404.7 228.0L407.3 226.4L409.8 224.9L412.4 223.4L415.0 221.9L417.5 220.5L420.1 219.1L422.6 217.7L425.2 216.3L427.7 214.9L430.3 213.5L432.9 212.2L435.4 210.9L438.0 209.5L440.5 208.2L443.1 206.9L445.6 205.6L448.2 204.4L450.8 203.1L453.3 201.8L455.9 200.6L458.4 199.3L461.0 198.1L463.5 196.8L466.1 195.6L468.7 194.3L471.2 193.1L473.8 191.9L476.3 190.7L478.9 189.4L481.4 188.2L484.0 187.0" fill="none" stroke="#d40212" stroke-width="1.9"/>
<path d="M282.0 430.7L284.6 418.6L287.1 407.3L289.7 396.8L292.2 387.1L294.8 378.0L297.3 369.6L299.9 361.8L302.5 354.5L305.0 347.7L307.6 341.3L310.1 335.4L312.7 329.8L315.2 324.6L317.8 319.7L320.4 315.1L322.9 310.8L325.5 306.7L328.0 302.8L330.6 299.2L333.1 295.7L335.7 292.5L338.3 289.4L340.8 286.4L343.4 283.6L345.9 280.9L348.5 278.3L351.0 275.8L353.6 273.4L356.2 271.2L358.7 269.0L361.3 266.8L363.8 264.8L366.4 262.8L368.9 260.9L371.5 259.0L374.1 257.1L376.6 255.4L379.2 253.6L381.7 251.9L384.3 250.2L386.8 248.6L389.4 247.0L391.9 245.4L394.5 243.9L397.1 242.4L399.6 240.8L402.2 239.4L404.7 237.9L407.3 236.4L409.8 235.0L412.4 233.6L415.0 232.2L417.5 230.8L420.1 229.4L422.6 228.0L425.2 226.6L427.7 225.3L430.3 223.9L432.9 222.6L435.4 221.2L438.0 219.9L440.5 218.6L443.1 217.3L445.6 215.9L448.2 214.6L450.8 213.3L453.3 212.0L455.9 210.7L458.4 209.4L461.0 208.1L463.5 206.8L466.1 205.5L468.7 204.3L471.2 203.0L473.8 201.7L476.3 200.4L478.9 199.1L481.4 197.8L484.0 196.6" fill="none" stroke="#d40212" stroke-width="1.9"/>
<path d="M282.0 339.6L284.6 337.0L287.1 334.5L289.7 331.9L292.2 329.4L294.8 326.9L297.3 324.4L299.9 321.8L302.5 319.4L305.0 316.9L307.6 314.4L310.1 312.0L312.7 309.5L315.2 307.1L317.8 304.7L320.4 302.4L322.9 300.0L325.5 297.7L328.0 295.4L330.6 293.2L333.1 291.0L335.7 288.8L338.3 286.6L340.8 284.5L343.4 282.5L345.9 280.5L348.5 278.5L351.0 276.6L353.6 274.7L356.2 272.8L358.7 271.0L361.3 269.3L363.8 267.6L366.4 265.9L368.9 264.2L371.5 262.6L374.1 261.1L376.6 259.5L379.2 258.0L381.7 256.5L384.3 255.1L386.8 253.6L389.4 252.2L391.9 250.8L394.5 249.5L397.1 248.1L399.6 246.7L402.2 245.4L404.7 244.1L407.3 242.8L409.8 241.5L412.4 240.2L415.0 238.9L417.5 237.6L420.1 236.4L422.6 235.1L425.2 233.8L427.7 232.6L430.3 231.3L432.9 230.1L435.4 228.8L438.0 227.6L440.5 226.3L443.1 225.1L445.6 223.9L448.2 222.6L450.8 221.4L453.3 220.1L455.9 218.9L458.4 217.7L461.0 216.4L463.5 215.2L466.1 214.0L468.7 212.8L471.2 211.5L473.8 210.3L476.3 209.1L478.9 207.8L481.4 206.6L484.0 205.4" fill="none" stroke="#d40212" stroke-width="1.9"/>
<circle cx="310.4" cy="304.3" r="2.8" fill="#a00e1a"/>
<circle cx="312.2" cy="302.6" r="2.8" fill="#a00e1a"/>
<circle cx="347.5" cy="285.4" r="2.8" fill="#a00e1a"/>
<circle cx="375.6" cy="260.4" r="2.8" fill="#a00e1a"/>
<circle cx="379.7" cy="254.9" r="2.8" fill="#a00e1a"/>
<circle cx="403.4" cy="247" r="2.8" fill="#a00e1a"/>
<circle cx="400.7" cy="231.6" r="2.8" fill="#a00e1a"/>
<circle cx="414.5" cy="226" r="2.8" fill="#a00e1a"/>
<circle cx="431.9" cy="214.9" r="2.8" fill="#a00e1a"/>
<circle cx="431.5" cy="228.2" r="2.8" fill="#a00e1a"/>
<circle cx="459.6" cy="214.9" r="2.8" fill="#a00e1a"/>
<path d="M391 286.5H413.3V266.2" fill="none" stroke="#3a8fd6" stroke-width="1.8" stroke-linejoin="miter"/>
<path d="M418.8 259H441.1V238.7" fill="none" stroke="#35a556" stroke-width="1.8" stroke-linejoin="miter"/>
</g>
<text x="298.83" y="340.9" text-anchor="middle">-23</text>
<text x="326.69" y="340.9" text-anchor="middle">-22</text>
<text x="354.54" y="340.9" text-anchor="middle">-21</text>
<text x="382.4" y="340.9" text-anchor="middle">-20</text>
<text x="410.26" y="340.9" text-anchor="middle">-19</text>
<text x="438.12" y="340.9" text-anchor="middle">-18</text>
<text x="465.97" y="340.9" text-anchor="middle">-17</text>
<text x="280.7" y="314.85" text-anchor="end">-7</text>
<text x="280.7" y="289.8" text-anchor="end">-6</text>
<text x="280.7" y="264.75" text-anchor="end">-5</text>
<text x="280.7" y="239.7" text-anchor="end">-4</text>
<text x="280.7" y="214.65" text-anchor="end">-3</text>
<text x="280.7" y="192.6" text-anchor="end">-2</text>
<text x="370.9" y="356.6">M<tspan style="font-size:8.9px" dy="3.4">UV</tspan></text>
<text transform="translate(257.7 254.2) rotate(-90)" text-anchor="middle" style="font-size:13.9px">log<tspan style="font-size:9.6px" dy="3.4">10</tspan><tspan dy="-3.4">(Φ [Mpc</tspan><tspan style="font-size:9.6px" dy="-7">-3</tspan><tspan dy="7"> mag</tspan><tspan style="font-size:9.6px" dy="-7">-1</tspan><tspan dy="7">])</tspan></text>
<text x="304.3" y="207.7" style="font-size:19.9px">z~10</text>
</g>
<g>
<clipPath id="c12"><rect x="528.7" y="184.2" width="196.6" height="139.4"/></clipPath>
<rect x="614.1" y="185" width="7.9" height="137.8" fill="#d5d5d5"/>
<rect x="622" y="185" width="102.5" height="137.8" fill="#c1c1c1"/>
<path d="M532.29 322.8v-1.4M532.29 185v1.4M535.07 322.8v-1.4M535.07 185v1.4M537.86 322.8v-1.4M537.86 185v1.4M540.64 322.8v-1.4M540.64 185v1.4M543.43 322.8v-2.5M543.43 185v2.5M546.22 322.8v-1.4M546.22 185v1.4M549 322.8v-1.4M549 185v1.4M551.79 322.8v-1.4M551.79 185v1.4M554.57 322.8v-1.4M554.57 185v1.4M557.36 322.8v-1.4M557.36 185v1.4M560.14 322.8v-1.4M560.14 185v1.4M562.93 322.8v-1.4M562.93 185v1.4M565.72 322.8v-1.4M565.72 185v1.4M568.5 322.8v-1.4M568.5 185v1.4M571.29 322.8v-2.5M571.29 185v2.5M574.07 322.8v-1.4M574.07 185v1.4M576.86 322.8v-1.4M576.86 185v1.4M579.64 322.8v-1.4M579.64 185v1.4M582.43 322.8v-1.4M582.43 185v1.4M585.22 322.8v-1.4M585.22 185v1.4M588 322.8v-1.4M588 185v1.4M590.79 322.8v-1.4M590.79 185v1.4M593.57 322.8v-1.4M593.57 185v1.4M596.36 322.8v-1.4M596.36 185v1.4M599.14 322.8v-2.5M599.14 185v2.5M601.93 322.8v-1.4M601.93 185v1.4M604.72 322.8v-1.4M604.72 185v1.4M607.5 322.8v-1.4M607.5 185v1.4M610.29 322.8v-1.4M610.29 185v1.4M613.07 322.8v-1.4M613.07 185v1.4M615.86 322.8v-1.4M615.86 185v1.4M618.64 322.8v-1.4M618.64 185v1.4M621.43 322.8v-1.4M621.43 185v1.4M624.22 322.8v-1.4M624.22 185v1.4M627 322.8v-2.5M627 185v2.5M629.79 322.8v-1.4M629.79 185v1.4M632.57 322.8v-1.4M632.57 185v1.4M635.36 322.8v-1.4M635.36 185v1.4M638.14 322.8v-1.4M638.14 185v1.4M640.93 322.8v-1.4M640.93 185v1.4M643.72 322.8v-1.4M643.72 185v1.4M646.5 322.8v-1.4M646.5 185v1.4M649.29 322.8v-1.4M649.29 185v1.4M652.07 322.8v-1.4M652.07 185v1.4M654.86 322.8v-2.5M654.86 185v2.5M657.64 322.8v-1.4M657.64 185v1.4M660.43 322.8v-1.4M660.43 185v1.4M663.22 322.8v-1.4M663.22 185v1.4M666 322.8v-1.4M666 185v1.4M668.79 322.8v-1.4M668.79 185v1.4M671.57 322.8v-1.4M671.57 185v1.4M674.36 322.8v-1.4M674.36 185v1.4M677.14 322.8v-1.4M677.14 185v1.4M679.93 322.8v-1.4M679.93 185v1.4M682.71 322.8v-2.5M682.71 185v2.5M685.5 322.8v-1.4M685.5 185v1.4M688.29 322.8v-1.4M688.29 185v1.4M691.07 322.8v-1.4M691.07 185v1.4M693.86 322.8v-1.4M693.86 185v1.4M696.64 322.8v-1.4M696.64 185v1.4M699.43 322.8v-1.4M699.43 185v1.4M702.21 322.8v-1.4M702.21 185v1.4M705 322.8v-1.4M705 185v1.4M707.79 322.8v-1.4M707.79 185v1.4M710.57 322.8v-2.5M710.57 185v2.5M713.36 322.8v-1.4M713.36 185v1.4M716.14 322.8v-1.4M716.14 185v1.4M718.93 322.8v-1.4M718.93 185v1.4M721.71 322.8v-1.4M721.71 185v1.4M529.5 320.27h1.9M724.5 320.27h-1.9M529.5 317.76h1.9M724.5 317.76h-1.9M529.5 315.26h1.9M724.5 315.26h-1.9M529.5 312.75h1.9M724.5 312.75h-1.9M529.5 310.25h3.5M724.5 310.25h-3.5M529.5 307.75h1.9M724.5 307.75h-1.9M529.5 305.24h1.9M724.5 305.24h-1.9M529.5 302.74h1.9M724.5 302.74h-1.9M529.5 300.23h1.9M724.5 300.23h-1.9M529.5 297.73h1.9M724.5 297.73h-1.9M529.5 295.22h1.9M724.5 295.22h-1.9M529.5 292.72h1.9M724.5 292.72h-1.9M529.5 290.21h1.9M724.5 290.21h-1.9M529.5 287.7h1.9M724.5 287.7h-1.9M529.5 285.2h3.5M724.5 285.2h-3.5M529.5 282.69h1.9M724.5 282.69h-1.9M529.5 280.19h1.9M724.5 280.19h-1.9M529.5 277.69h1.9M724.5 277.69h-1.9M529.5 275.18h1.9M724.5 275.18h-1.9M529.5 272.68h1.9M724.5 272.68h-1.9M529.5 270.17h1.9M724.5 270.17h-1.9M529.5 267.66h1.9M724.5 267.66h-1.9M529.5 265.16h1.9M724.5 265.16h-1.9M529.5 262.65h1.9M724.5 262.65h-1.9M529.5 260.15h3.5M724.5 260.15h-3.5M529.5 257.64h1.9M724.5 257.64h-1.9M529.5 255.14h1.9M724.5 255.14h-1.9M529.5 252.63h1.9M724.5 252.63h-1.9M529.5 250.13h1.9M724.5 250.13h-1.9M529.5 247.62h1.9M724.5 247.62h-1.9M529.5 245.12h1.9M724.5 245.12h-1.9M529.5 242.62h1.9M724.5 242.62h-1.9M529.5 240.11h1.9M724.5 240.11h-1.9M529.5 237.6h1.9M724.5 237.6h-1.9M529.5 235.1h3.5M724.5 235.1h-3.5M529.5 232.59h1.9M724.5 232.59h-1.9M529.5 230.09h1.9M724.5 230.09h-1.9M529.5 227.59h1.9M724.5 227.59h-1.9M529.5 225.08h1.9M724.5 225.08h-1.9M529.5 222.57h1.9M724.5 222.57h-1.9M529.5 220.07h1.9M724.5 220.07h-1.9M529.5 217.56h1.9M724.5 217.56h-1.9M529.5 215.06h1.9M724.5 215.06h-1.9M529.5 212.56h1.9M724.5 212.56h-1.9M529.5 210.05h3.5M724.5 210.05h-3.5M529.5 207.54h1.9M724.5 207.54h-1.9M529.5 205.04h1.9M724.5 205.04h-1.9M529.5 202.53h1.9M724.5 202.53h-1.9M529.5 200.03h1.9M724.5 200.03h-1.9M529.5 197.53h1.9M724.5 197.53h-1.9M529.5 195.02h1.9M724.5 195.02h-1.9M529.5 192.51h1.9M724.5 192.51h-1.9M529.5 190.01h1.9M724.5 190.01h-1.9M529.5 187.5h1.9M724.5 187.5h-1.9" stroke="#000" stroke-width="1.15" fill="none"/>
<rect x="529.5" y="185" width="195" height="137.8" fill="none" stroke="#000" stroke-width="1.55"/>
<g clip-path="url(#c12)">
<line x1="529.5" y1="303.9" x2="724.5" y2="303.9" stroke="#111" stroke-width="1.5" stroke-dasharray="5.3 4.25" stroke-dashoffset="0"/>
<line x1="578.9" y1="269.2" x2="606.9" y2="269.2" stroke="#a00e1a" stroke-width="1.4"/>
<line x1="592.9" y1="256.2" x2="592.9" y2="289.6" stroke="#a00e1a" stroke-width="1.4"/>
<line x1="584.75" y1="260.8" x2="612.75" y2="260.8" stroke="#a00e1a" stroke-width="1.4"/>
<line x1="598.75" y1="252.8" x2="598.75" y2="272.2" stroke="#a00e1a" stroke-width="1.4"/>
<line x1="603.2" y1="259.7" x2="631.2" y2="259.7" stroke="#a00e1a" stroke-width="1.4"/>
<line x1="617.2" y1="252.7" x2="617.2" y2="268" stroke="#a00e1a" stroke-width="1.4"/>
<line x1="607.1" y1="257.6" x2="640.8" y2="257.6" stroke="#a00e1a" stroke-width="1.4"/>
<line x1="621.1" y1="247.9" x2="621.1" y2="269.4" stroke="#a00e1a" stroke-width="1.4"/>
<line x1="635.4" y1="256.25" x2="662.4" y2="256.25" stroke="#a00e1a" stroke-width="1.4"/>
<line x1="648.9" y1="247.25" x2="648.9" y2="268.05" stroke="#a00e1a" stroke-width="1.4"/>
<line x1="641" y1="249.3" x2="669" y2="249.3" stroke="#a00e1a" stroke-width="1.4"/>
<line x1="655" y1="243.8" x2="655" y2="256.3" stroke="#a00e1a" stroke-width="1.4"/>
<line x1="662.6" y1="234.1" x2="690.6" y2="234.1" stroke="#a00e1a" stroke-width="1.4"/>
<line x1="676.6" y1="226.8" x2="676.6" y2="245.2" stroke="#a00e1a" stroke-width="1.4"/>
<path d="M526.0 347.0L528.6 344.7L531.1 342.4L533.7 340.1L536.2 337.8L538.8 335.6L541.3 333.3L543.9 331.0L546.5 328.8L549.0 326.5L551.6 324.2L554.1 322.0L556.7 319.7L559.2 317.4L561.8 315.2L564.4 313.0L566.9 310.7L569.5 308.5L572.0 306.2L574.6 304.0L577.1 301.8L579.7 299.6L582.3 297.4L584.8 295.2L587.4 293.0L589.9 290.9L592.5 288.7L595.0 286.6L597.6 284.4L600.2 282.3L602.7 280.2L605.3 278.2L607.8 276.1L610.4 274.1L612.9 272.1L615.5 270.1L618.1 268.1L620.6 266.2L623.2 264.3L625.7 262.4L628.3 260.5L630.8 258.7L633.4 256.9L635.9 255.1L638.5 253.4L641.1 251.7L643.6 250.0L646.2 248.4L648.7 246.8L651.3 245.2L653.8 243.6L656.4 242.1L659.0 240.6L661.5 239.1L664.1 237.7L666.6 236.3L669.2 234.9L671.7 233.5L674.3 232.2L676.9 230.8L679.4 229.5L682.0 228.2L684.5 226.9L687.1 225.6L689.6 224.4L692.2 223.1L694.8 221.9L697.3 220.7L699.9 219.5L702.4 218.3L705.0 217.1L707.5 215.9L710.1 214.7L712.7 213.5L715.2 212.3L717.8 211.2L720.3 210.0L722.9 208.8L725.4 207.7L728.0 206.5" fill="none" stroke="#d40212" stroke-width="1.9"/>
<path d="M526.0 317.7L528.6 316.2L531.1 314.7L533.7 313.1L536.2 311.6L538.8 310.1L541.3 308.6L543.9 307.1L546.5 305.6L549.0 304.1L551.6 302.5L554.1 301.0L556.7 299.5L559.2 298.0L561.8 296.5L564.4 295.0L566.9 293.5L569.5 292.0L572.0 290.5L574.6 289.0L577.1 287.5L579.7 286.0L582.3 284.5L584.8 283.1L587.4 281.6L589.9 280.1L592.5 278.6L595.0 277.1L597.6 275.7L600.2 274.2L602.7 272.7L605.3 271.3L607.8 269.8L610.4 268.4L612.9 266.9L615.5 265.5L618.1 264.1L620.6 262.6L623.2 261.2L625.7 259.8L628.3 258.4L630.8 257.0L633.4 255.6L635.9 254.2L638.5 252.9L641.1 251.5L643.6 250.1L646.2 248.8L648.7 247.5L651.3 246.1L653.8 244.8L656.4 243.5L659.0 242.2L661.5 240.9L664.1 239.7L666.6 238.4L669.2 237.2L671.7 235.9L674.3 234.7L676.9 233.5L679.4 232.3L682.0 231.2L684.5 230.0L687.1 228.8L689.6 227.7L692.2 226.6L694.8 225.5L697.3 224.4L699.9 223.3L702.4 222.2L705.0 221.2L707.5 220.1L710.1 219.1L712.7 218.1L715.2 217.1L717.8 216.1L720.3 215.1L722.9 214.1L725.4 213.2L728.0 212.2" fill="none" stroke="#d40212" stroke-width="1.9"/>
<circle cx="592.9" cy="269.2" r="2.8" fill="#a00e1a"/>
<circle cx="598.75" cy="260.8" r="2.8" fill="#a00e1a"/>
<circle cx="617.2" cy="259.7" r="2.8" fill="#a00e1a"/>
<circle cx="621.1" cy="257.6" r="2.8" fill="#a00e1a"/>
<circle cx="648.9" cy="256.25" r="2.8" fill="#a00e1a"/>
<circle cx="655" cy="249.3" r="2.8" fill="#a00e1a"/>
<circle cx="676.6" cy="234.1" r="2.8" fill="#a00e1a"/>
<path d="M627.8 292.1H650.1V271.8" fill="none" stroke="#3a8fd6" stroke-width="1.8" stroke-linejoin="miter"/>
<path d="M655.5 265.3H677.8V245" fill="none" stroke="#35a556" stroke-width="1.8" stroke-linejoin="miter"/>
</g>
<text x="543.23" y="340.9" text-anchor="middle">-23</text>
<text x="571.09" y="340.9" text-anchor="middle">-22</text>
<text x="598.94" y="340.9" text-anchor="middle">-21</text>
<text x="626.8" y="340.9" text-anchor="middle">-20</text>
<text x="654.66" y="340.9" text-anchor="middle">-19</text>
<text x="682.51" y="340.9" text-anchor="middle">-18</text>
<text x="710.37" y="340.9" text-anchor="middle">-17</text>
<text x="525.1" y="314.85" text-anchor="end">-7</text>
<text x="525.1" y="289.8" text-anchor="end">-6</text>
<text x="525.1" y="264.75" text-anchor="end">-5</text>
<text x="525.1" y="239.7" text-anchor="end">-4</text>
<text x="525.1" y="214.65" text-anchor="end">-3</text>
<text x="525.1" y="192.6" text-anchor="end">-2</text>
<text x="615.3" y="356.6">M<tspan style="font-size:8.9px" dy="3.4">UV</tspan></text>
<text transform="translate(502.1 254.2) rotate(-90)" text-anchor="middle" style="font-size:13.9px">log<tspan style="font-size:9.6px" dy="3.4">10</tspan><tspan dy="-3.4">(Φ [Mpc</tspan><tspan style="font-size:9.6px" dy="-7">-3</tspan><tspan dy="7"> mag</tspan><tspan style="font-size:9.6px" dy="-7">-1</tspan><tspan dy="7">])</tspan></text>
<text x="548.7" y="207.7" style="font-size:19.9px">z~12</text>
</g>
</svg>
</body></html>
